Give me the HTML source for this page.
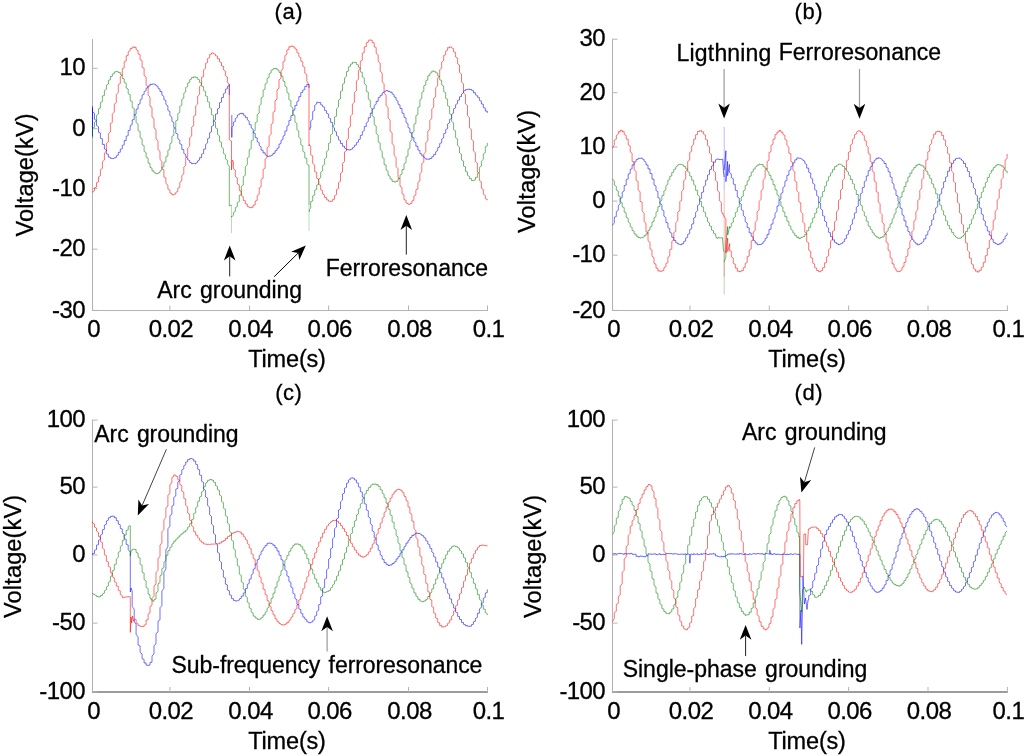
<!DOCTYPE html>
<html><head><meta charset="utf-8"><title>Figure</title>
<style>
html,body{margin:0;padding:0;background:#fff;}
svg{display:block;}
text{font-family:"Liberation Sans",sans-serif;font-size:24px;fill:#000;letter-spacing:-0.6px;word-spacing:2px;stroke:#000;stroke-width:0.3px;}
text.l{font-size:23.5px}
text.a{font-size:23px}
text.tt{font-size:22px;letter-spacing:0.5px}
</style></head><body>
<svg width="1024" height="756" viewBox="0 0 1024 756">
<rect width="1024" height="756" fill="#fff"/>
<path d="M92.5 39.0 V311.0" stroke="#b4b4b4" stroke-width="1.1" fill="none"/>
<path d="M92.0 310.5 H488.0" stroke="#b4b4b4" stroke-width="1.0" fill="none"/>
<path d="M92.5 310.5 v-5.0" stroke="#b4b4b4" stroke-width="1"/>
<text x="93.5" y="336.7" text-anchor="middle">0</text>
<path d="M169.9 310.5 v-5.0" stroke="#b4b4b4" stroke-width="1"/>
<text x="170.9" y="336.7" text-anchor="middle">0.02</text>
<path d="M249.5 310.5 v-5.0" stroke="#b4b4b4" stroke-width="1"/>
<text x="250.5" y="336.7" text-anchor="middle">0.04</text>
<path d="M328.6 310.5 v-5.0" stroke="#b4b4b4" stroke-width="1"/>
<text x="329.6" y="336.7" text-anchor="middle">0.06</text>
<path d="M408.5 310.5 v-5.0" stroke="#b4b4b4" stroke-width="1"/>
<text x="409.5" y="336.7" text-anchor="middle">0.08</text>
<path d="M487.5 310.5 v-5.0" stroke="#b4b4b4" stroke-width="1"/>
<text x="488.5" y="336.7" text-anchor="middle">0.1</text>
<path d="M92.5 68.3 h5.0" stroke="#b4b4b4" stroke-width="1"/>
<text x="85.0" y="75.4" text-anchor="end">10</text>
<path d="M92.5 128.7 h5.0" stroke="#b4b4b4" stroke-width="1"/>
<text x="85.0" y="135.8" text-anchor="end">0</text>
<path d="M92.5 188.6 h5.0" stroke="#b4b4b4" stroke-width="1"/>
<text x="85.0" y="195.7" text-anchor="end">-10</text>
<path d="M92.5 249.2 h5.0" stroke="#b4b4b4" stroke-width="1"/>
<text x="85.0" y="256.3" text-anchor="end">-20</text>
<path d="M92.5 310.4 h5.0" stroke="#b4b4b4" stroke-width="1"/>
<text x="85.0" y="317.5" text-anchor="end">-30</text>
<text class="l" transform="translate(33.0 175.2) rotate(-90)" text-anchor="middle" textLength="122.5">Voltage(kV)</text>
<text class="tt" x="288.8" y="19.0" text-anchor="middle">(a)</text>
<text class="l" x="286.8" y="367.4" text-anchor="middle" textLength="77">Time(s)</text>
<path d="M92.5 106.0 L92.5 136.0 L92.5 109.0 L92.5 109.0 L92.5 108.5 L92.5 111.7 L94.5 113.3 L94.5 119.3 L96.5 120.5 L96.5 125.5 L98.5 126.7 L98.5 132.3 L100.4 132.9 L100.4 138.3 L102.4 138.7 L102.4 144.4 L104.4 144.5 L104.4 148.9 L106.4 149.9 L106.4 153.9 L108.4 154.3 L108.4 157.1 L110.4 157.3 L110.4 158.3 L112.3 158.4 L112.3 158.7 L114.3 158.2 L114.3 157.8 L116.3 157.7 L116.3 155.8 L118.3 155.2 L118.3 152.5 L120.3 152.2 L120.3 149.2 L122.3 148.7 L122.3 145.4 L124.2 144.8 L124.2 140.6 L126.2 140.5 L126.2 136.3 L128.2 135.6 L128.2 130.6 L130.2 130.2 L130.2 125.6 L132.2 124.6 L132.2 119.9 L134.2 119.5 L134.2 114.7 L136.1 114.2 L136.1 109.3 L138.1 108.9 L138.1 104.6 L140.1 103.8 L140.1 99.9 L142.1 99.0 L142.1 95.1 L144.1 94.4 L144.1 91.7 L146.1 90.6 L146.1 88.2 L148.1 87.6 L148.1 86.0 L150.0 86.0 L150.0 84.2 L152.0 84.5 L152.0 84.1 L154.0 84.0 L154.0 84.0 L156.0 84.8 L156.0 85.7 L158.0 86.3 L158.0 88.2 L160.0 89.0 L160.0 91.6 L161.9 91.6 L161.9 95.0 L163.9 96.3 L163.9 99.7 L165.9 100.5 L165.9 104.4 L167.9 105.8 L167.9 110.5 L169.9 111.5 L169.9 115.6 L171.9 117.1 L171.9 121.3 L173.8 122.4 L173.8 127.4 L175.8 128.4 L175.8 133.2 L177.8 134.1 L177.8 138.8 L179.8 140.1 L179.8 143.8 L181.8 144.6 L181.8 149.3 L183.8 149.5 L183.8 153.5 L185.7 154.4 L185.7 156.7 L187.7 157.9 L187.7 159.7 L189.7 160.6 L189.7 162.3 L191.7 162.8 L191.7 163.9 L193.7 163.3 L193.7 163.4 L195.7 163.9 L195.7 163.1 L197.7 162.3 L197.7 160.9 L199.6 160.0 L199.6 157.7 L201.6 157.7 L201.6 154.3 L203.6 153.5 L203.6 149.3 L205.6 149.0 L205.6 144.5 L207.6 142.9 L207.6 138.8 L209.6 137.9 L209.6 132.7 L211.5 131.8 L211.5 126.5 L213.5 125.5 L213.5 120.8 L215.5 119.8 L215.5 114.1 L217.5 113.8 L217.5 108.9 L219.5 108.0 L219.5 102.8 L221.5 102.1 L221.5 97.7 L223.4 97.6 L223.4 93.8 L225.4 92.9 L225.4 89.3 L227.4 88.8 L227.4 86.5 L229.3 85.5 L229.3 84.5 L229.3 95.0 M231.8 115.0 L231.8 137.4 L231.9 127.4 L231.9 127.4 L233.4 125.7 L233.4 122.2 L235.3 121.5 L235.3 118.6 L237.3 117.4 L237.3 115.1 L239.3 114.6 L239.3 113.8 L241.3 113.2 L241.3 113.9 L243.3 113.2 L243.3 115.0 L245.3 115.5 L245.3 117.4 L247.3 117.3 L247.3 119.8 L249.2 121.1 L249.2 124.5 L251.2 124.8 L251.2 128.0 L253.2 129.2 L253.2 132.9 L255.2 133.3 L255.2 137.4 L257.2 137.9 L257.2 141.8 L259.2 142.6 L259.2 145.5 L261.1 146.9 L261.1 150.1 L263.1 150.3 L263.1 153.0 L265.1 152.7 L265.1 154.7 L267.1 155.6 L267.1 156.5 L269.1 156.3 L269.1 155.9 L271.1 156.2 L271.1 155.4 L273.0 155.0 L273.0 153.3 L275.0 153.3 L275.0 150.9 L277.0 150.4 L277.0 148.4 L279.0 148.0 L279.0 144.2 L281.0 143.6 L281.0 140.4 L283.0 139.5 L283.0 136.2 L284.9 135.3 L284.9 131.1 L286.9 130.9 L286.9 126.3 L288.9 125.1 L288.9 120.7 L290.9 120.3 L290.9 115.7 L292.9 115.5 L292.9 110.4 L294.9 109.9 L294.9 105.6 L296.9 105.4 L296.9 101.6 L298.8 100.8 L298.8 96.6 L300.8 96.7 L300.8 92.5 L302.8 92.3 L302.8 90.1 L304.8 89.6 L304.8 86.4 L306.8 86.6 L306.8 84.4 L308.0 84.4 L309.0 84.4 L309.0 88.0 M310.0 130.0 L310.0 127.4 L310.0 127.4 L310.7 127.4 L310.7 120.8 L312.7 119.3 L312.7 111.5 L314.7 110.3 L314.7 105.3 L316.7 104.0 L316.7 102.2 L318.7 102.4 L318.7 102.7 L320.7 102.5 L320.7 104.7 L322.6 105.1 L322.6 106.6 L324.6 107.3 L324.6 110.4 L326.6 110.8 L326.6 113.2 L328.6 114.0 L328.6 117.6 L330.6 118.7 L330.6 122.3 L332.6 122.5 L332.6 126.2 L334.5 127.9 L334.5 130.9 L336.5 131.9 L336.5 135.5 L338.5 136.6 L338.5 139.6 L340.5 140.6 L340.5 143.5 L342.5 143.4 L342.5 146.3 L344.5 146.2 L344.5 148.0 L346.5 149.0 L346.5 149.7 L348.4 149.5 L348.4 150.0 L350.4 150.0 L350.4 149.5 L352.4 149.2 L352.4 147.8 L354.4 147.1 L354.4 145.3 L356.4 145.1 L356.4 142.6 L358.4 142.2 L358.4 139.8 L360.3 139.2 L360.3 135.5 L362.3 135.2 L362.3 131.7 L364.3 130.5 L364.3 126.6 L366.3 126.3 L366.3 122.9 L368.3 121.5 L368.3 117.7 L370.3 117.7 L370.3 113.1 L372.2 113.3 L372.2 108.9 L374.2 108.7 L374.2 105.5 L376.2 104.2 L376.2 101.3 L378.2 101.3 L378.2 97.7 L380.2 97.2 L380.2 95.4 L382.2 95.2 L382.2 93.0 L384.1 92.3 L384.1 91.7 L386.1 91.0 L386.1 90.5 L388.1 90.7 L388.1 91.6 L390.1 91.6 L390.1 92.2 L392.1 92.2 L392.1 93.9 L394.1 94.7 L394.1 97.0 L396.1 97.5 L396.1 99.9 L398.0 101.1 L398.0 104.2 L400.0 104.9 L400.0 108.3 L402.0 108.5 L402.0 113.0 L404.0 113.5 L404.0 117.2 L406.0 117.9 L406.0 122.5 L408.0 123.7 L408.0 127.5 L409.9 128.4 L409.9 132.6 L411.9 133.0 L411.9 137.1 L413.9 137.5 L413.9 141.5 L415.9 142.5 L415.9 146.2 L417.9 146.3 L417.9 150.0 L419.9 150.5 L419.9 153.6 L421.8 153.9 L421.8 155.8 L423.8 156.2 L423.8 157.3 L425.8 158.4 L425.8 159.3 L427.8 159.1 L427.8 159.0 L429.8 159.3 L429.8 158.4 L431.8 158.4 L431.8 156.8 L433.7 156.4 L433.7 154.4 L435.7 154.4 L435.7 151.8 L437.7 150.7 L437.7 147.6 L439.7 147.1 L439.7 143.5 L441.7 142.8 L441.7 139.1 L443.7 137.9 L443.7 133.7 L445.7 133.1 L445.7 129.6 L447.6 128.6 L447.6 124.0 L449.6 122.8 L449.6 119.4 L451.6 118.5 L451.6 114.3 L453.6 113.1 L453.6 108.8 L455.6 108.0 L455.6 104.7 L457.6 103.5 L457.6 100.4 L459.5 100.0 L459.5 96.8 L461.5 96.5 L461.5 94.1 L463.5 92.9 L463.5 91.0 L465.5 90.7 L465.5 89.6 L467.5 89.7 L467.5 89.2 L469.5 89.1 L469.5 89.7 L471.4 89.3 L471.4 90.2 L473.4 90.5 L473.4 92.7 L475.4 92.6 L475.4 94.8 L477.4 95.5 L477.4 97.2 L479.4 97.5 L479.4 100.4 L481.4 101.0 L481.4 104.0 L483.3 104.1 L483.3 107.6 L485.3 108.0 L485.3 111.1 L487.3 111.0 L487.3 112.7 L487.5 113.0" stroke="#0000ff" stroke-width="0.56" fill="none" stroke-linejoin="round"/>
<path d="M92.5 138.0 L92.5 131.0 L92.5 131.0 L92.5 130.8 L92.5 128.0 L94.5 127.4 L94.5 122.1 L96.5 120.9 L96.5 115.4 L98.5 114.0 L98.5 108.8 L100.4 108.1 L100.4 102.6 L102.4 101.6 L102.4 95.9 L104.4 95.5 L104.4 90.6 L106.4 89.3 L106.4 85.2 L108.4 84.1 L108.4 80.3 L110.4 79.8 L110.4 76.5 L112.3 76.4 L112.3 74.1 L114.3 73.5 L114.3 72.0 L116.3 71.7 L116.3 71.3 L118.3 71.8 L118.3 72.5 L120.3 72.4 L120.3 74.6 L122.3 75.0 L122.3 78.3 L124.2 78.8 L124.2 82.5 L126.2 83.2 L126.2 88.1 L128.2 89.0 L128.2 93.8 L130.2 94.7 L130.2 100.8 L132.2 101.3 L132.2 107.6 L134.2 108.5 L134.2 115.0 L136.1 116.0 L136.1 122.6 L138.1 124.1 L138.1 130.6 L140.1 131.6 L140.1 137.7 L142.1 138.9 L142.1 144.7 L144.1 145.6 L144.1 151.4 L146.1 152.6 L146.1 157.2 L148.1 158.1 L148.1 163.0 L150.0 163.4 L150.0 167.4 L152.0 168.0 L152.0 170.9 L154.0 170.9 L154.0 172.6 L156.0 173.1 L156.0 173.7 L158.0 173.6 L158.0 173.0 L160.0 172.6 L160.0 170.9 L161.9 170.0 L161.9 167.2 L163.9 166.8 L163.9 162.4 L165.9 161.8 L165.9 156.8 L167.9 156.0 L167.9 150.3 L169.9 149.3 L169.9 143.9 L171.9 142.6 L171.9 136.4 L173.8 135.4 L173.8 128.7 L175.8 127.5 L175.8 120.8 L177.8 120.1 L177.8 113.7 L179.8 112.5 L179.8 106.4 L181.8 105.2 L181.8 99.4 L183.8 98.1 L183.8 93.2 L185.7 92.0 L185.7 87.5 L187.7 86.6 L187.7 83.0 L189.7 82.5 L189.7 79.7 L191.7 79.1 L191.7 77.3 L193.7 77.6 L193.7 76.8 L195.7 76.9 L195.7 77.4 L197.7 77.7 L197.7 79.2 L199.6 79.8 L199.6 82.5 L201.6 83.2 L201.6 86.2 L203.6 86.6 L203.6 90.7 L205.6 91.5 L205.6 96.0 L207.6 96.7 L207.6 101.8 L209.6 102.4 L209.6 107.6 L211.5 108.7 L211.5 114.5 L213.5 115.4 L213.5 120.9 L215.5 121.9 L215.5 127.8 L217.5 128.7 L217.5 134.5 L219.5 135.8 L219.5 141.4 L221.5 142.3 L221.5 147.2 L223.4 148.5 L223.4 153.4 L225.4 154.7 L225.4 159.0 L227.4 160.2 L227.4 163.9 L229.3 166.4 L229.3 166.6 L229.3 206.0 L231.5 205.0 M231.5 216.0 L231.5 217.0 L231.5 217.0 L233.4 215.3 L233.4 212.6 L235.3 211.6 L235.3 207.7 L237.3 206.6 L237.3 202.5 L239.3 201.6 L239.3 195.3 L241.3 194.7 L241.3 186.5 L243.3 185.1 L243.3 176.6 L245.3 175.3 L245.3 166.8 L247.3 164.8 L247.3 158.0 L249.2 156.8 L249.2 149.7 L251.2 148.6 L251.2 140.8 L253.2 139.9 L253.2 131.8 L255.2 130.5 L255.2 122.9 L257.2 121.7 L257.2 114.5 L259.2 113.0 L259.2 106.0 L261.1 104.4 L261.1 97.9 L263.1 96.8 L263.1 90.2 L265.1 89.2 L265.1 84.0 L267.1 82.9 L267.1 78.4 L269.1 77.5 L269.1 73.8 L271.1 72.9 L271.1 70.3 L273.0 69.9 L273.0 68.9 L275.0 68.2 L275.0 68.8 L277.0 68.5 L277.0 69.7 L279.0 70.1 L279.0 72.3 L281.0 72.8 L281.0 75.8 L283.0 76.5 L283.0 81.0 L284.9 81.7 L284.9 86.1 L286.9 87.2 L286.9 92.5 L288.9 93.4 L288.9 99.6 L290.9 100.6 L290.9 106.5 L292.9 108.0 L292.9 114.6 L294.9 115.3 L294.9 122.0 L296.9 123.4 L296.9 129.8 L298.8 131.0 L298.8 137.3 L300.8 138.8 L300.8 144.7 L302.8 145.8 L302.8 151.4 L304.8 152.4 L304.8 158.0 L306.8 158.4 L306.8 163.6 L308.3 165.0 L309.0 165.0 L309.0 205.0 M309.3 212.0 L309.5 209.4 L309.5 209.4 L310.7 208.1 L310.7 201.6 L312.7 201.0 L312.7 195.9 L314.7 195.1 L314.7 190.2 L316.7 189.5 L316.7 185.1 L318.7 184.2 L318.7 179.1 L320.7 177.7 L320.7 172.2 L322.6 171.0 L322.6 165.8 L324.6 164.4 L324.6 158.9 L326.6 157.5 L326.6 151.4 L328.6 150.0 L328.6 143.4 L330.6 142.6 L330.6 134.9 L332.6 133.7 L332.6 126.6 L334.5 124.7 L334.5 117.1 L336.5 116.2 L336.5 108.8 L338.5 106.9 L338.5 100.1 L340.5 98.9 L340.5 91.5 L342.5 90.7 L342.5 84.3 L344.5 83.2 L344.5 77.9 L346.5 76.3 L346.5 71.6 L348.4 71.2 L348.4 67.1 L350.4 66.5 L350.4 64.2 L352.4 64.0 L352.4 62.3 L354.4 62.3 L354.4 62.4 L356.4 62.6 L356.4 64.4 L358.4 64.9 L358.4 67.1 L360.3 68.2 L360.3 71.9 L362.3 72.4 L362.3 77.1 L364.3 78.2 L364.3 83.7 L366.3 85.2 L366.3 91.3 L368.3 92.1 L368.3 99.1 L370.3 100.3 L370.3 107.1 L372.2 108.9 L372.2 115.9 L374.2 117.0 L374.2 124.5 L376.2 126.0 L376.2 133.5 L378.2 135.0 L378.2 142.1 L380.2 143.1 L380.2 149.7 L382.2 151.4 L382.2 157.4 L384.1 158.4 L384.1 164.6 L386.1 165.0 L386.1 170.1 L388.1 171.2 L388.1 175.3 L390.1 176.2 L390.1 178.9 L392.1 179.1 L392.1 181.5 L394.1 181.3 L394.1 181.9 L396.1 182.0 L396.1 181.1 L398.0 181.3 L398.0 178.6 L400.0 178.6 L400.0 175.1 L402.0 174.1 L402.0 169.7 L404.0 169.5 L404.0 163.7 L406.0 162.6 L406.0 156.9 L408.0 156.0 L408.0 149.5 L409.9 148.4 L409.9 141.7 L411.9 140.0 L411.9 132.8 L413.9 131.9 L413.9 124.3 L415.9 123.3 L415.9 115.7 L417.9 114.5 L417.9 107.4 L419.9 106.7 L419.9 99.6 L421.8 98.5 L421.8 92.4 L423.8 91.4 L423.8 85.8 L425.8 85.0 L425.8 80.7 L427.8 80.0 L427.8 75.9 L429.8 75.6 L429.8 73.3 L431.8 72.7 L431.8 71.2 L433.7 70.9 L433.7 71.5 L435.7 71.7 L435.7 72.6 L437.7 73.0 L437.7 76.0 L439.7 76.4 L439.7 79.9 L441.7 80.4 L441.7 84.9 L443.7 86.1 L443.7 91.5 L445.7 92.6 L445.7 98.4 L447.6 99.2 L447.6 105.8 L449.6 106.5 L449.6 113.6 L451.6 114.9 L451.6 121.3 L453.6 122.8 L453.6 129.6 L455.6 130.9 L455.6 137.7 L457.6 139.0 L457.6 145.5 L459.5 147.0 L459.5 152.9 L461.5 154.3 L461.5 159.9 L463.5 161.1 L463.5 166.1 L465.5 167.0 L465.5 171.5 L467.5 171.9 L467.5 175.4 L469.5 176.4 L469.5 178.6 L471.4 178.7 L471.4 180.4 L473.4 180.6 L473.4 180.3 L475.4 180.0 L475.4 177.3 L477.4 177.4 L477.4 173.3 L479.4 172.7 L479.4 167.4 L481.4 166.1 L481.4 161.1 L483.3 159.4 L483.3 153.9 L485.3 152.6 L485.3 146.8 L487.3 145.9 L487.3 143.1 L487.5 143.0" stroke="#008000" stroke-width="0.56" fill="none" stroke-linejoin="round"/><path d="M231.5 205.0 L231.5 233.0 M309.0 205.0 L309.0 231.0" stroke="#008000" stroke-width="0.56" stroke-opacity="0.5" fill="none"/>
<path d="M92.5 192.6 L92.5 192.6 L92.5 191.7 L94.5 190.8 L94.5 187.8 L96.5 187.1 L96.5 182.7 L98.5 182.0 L98.5 176.8 L100.4 175.8 L100.4 169.7 L102.4 168.4 L102.4 161.7 L104.4 160.1 L104.4 153.0 L106.4 151.1 L106.4 143.5 L108.4 141.9 L108.4 133.7 L110.4 132.0 L110.4 123.5 L112.3 122.4 L112.3 114.1 L114.3 112.1 L114.3 104.0 L116.3 102.6 L116.3 94.5 L118.3 92.5 L118.3 84.7 L120.3 83.5 L120.3 76.7 L122.3 75.0 L122.3 68.6 L124.2 67.9 L124.2 61.8 L126.2 61.0 L126.2 55.9 L128.2 55.4 L128.2 51.8 L130.2 50.6 L130.2 48.6 L132.2 48.5 L132.2 47.2 L134.2 46.8 L134.2 47.6 L136.1 47.3 L136.1 49.7 L138.1 50.6 L138.1 53.9 L140.1 54.7 L140.1 59.7 L142.1 60.6 L142.1 67.3 L144.1 68.2 L144.1 75.5 L146.1 77.0 L146.1 84.8 L148.1 86.7 L148.1 95.1 L150.0 97.0 L150.0 106.2 L152.0 107.4 L152.0 117.0 L154.0 118.8 L154.0 128.0 L156.0 129.4 L156.0 139.0 L158.0 140.7 L158.0 149.6 L160.0 151.4 L160.0 159.6 L161.9 161.3 L161.9 168.5 L163.9 169.8 L163.9 177.1 L165.9 177.9 L165.9 183.5 L167.9 185.0 L167.9 189.0 L169.9 190.0 L169.9 193.0 L171.9 193.5 L171.9 194.8 L173.8 194.9 L173.8 194.3 L175.8 194.0 L175.8 192.3 L177.8 191.5 L177.8 188.2 L179.8 187.3 L179.8 182.3 L181.8 181.0 L181.8 175.5 L183.8 174.0 L183.8 167.0 L185.7 165.6 L185.7 157.7 L187.7 156.7 L187.7 148.0 L189.7 146.1 L189.7 137.7 L191.7 136.0 L191.7 127.1 L193.7 125.7 L193.7 116.3 L195.7 115.1 L195.7 105.9 L197.7 104.0 L197.7 96.0 L199.6 94.4 L199.6 86.5 L201.6 84.6 L201.6 77.2 L203.6 76.5 L203.6 69.8 L205.6 68.3 L205.6 63.4 L207.6 62.5 L207.6 58.5 L209.6 57.7 L209.6 54.5 L211.5 54.1 L211.5 53.0 L213.5 53.0 L213.5 53.6 L215.5 54.3 L215.5 55.7 L217.5 56.1 L217.5 58.8 L219.5 58.8 L219.5 61.8 L221.5 62.6 L221.5 65.9 L223.4 66.2 L223.4 69.8 L225.4 71.2 L225.4 75.7 L227.4 77.0 L227.4 81.8 L229.3 85.0 L229.3 86.9 L229.3 139.7 L231.5 141.0 L231.5 170.0 L232.2 160.0 L232.2 160.0 L233.4 161.4 L233.4 168.5 L235.3 170.1 L235.3 176.8 L237.3 177.9 L237.3 183.9 L239.3 184.9 L239.3 190.5 L241.3 191.2 L241.3 195.7 L243.3 196.7 L243.3 200.4 L245.3 200.7 L245.3 203.8 L247.3 204.0 L247.3 206.4 L249.2 206.8 L249.2 207.5 L251.2 207.8 L251.2 207.2 L253.2 207.3 L253.2 205.1 L255.2 204.9 L255.2 201.1 L257.2 200.3 L257.2 195.6 L259.2 194.3 L259.2 187.9 L261.1 186.8 L261.1 179.4 L263.1 178.1 L263.1 169.5 L265.1 168.3 L265.1 159.1 L267.1 157.5 L267.1 147.8 L269.1 146.3 L269.1 136.2 L271.1 134.2 L271.1 124.5 L273.0 122.9 L273.0 112.5 L275.0 111.1 L275.0 100.9 L277.0 99.4 L277.0 89.9 L279.0 88.3 L279.0 79.9 L281.0 78.2 L281.0 70.6 L283.0 69.0 L283.0 61.9 L284.9 61.0 L284.9 55.6 L286.9 54.4 L286.9 49.9 L288.9 49.5 L288.9 46.7 L290.9 47.0 L290.9 46.1 L292.9 46.0 L292.9 46.7 L294.9 47.1 L294.9 48.8 L296.9 49.4 L296.9 52.6 L298.8 53.1 L298.8 56.5 L300.8 57.8 L300.8 61.2 L302.8 61.9 L302.8 66.3 L304.8 67.2 L304.8 73.2 L306.8 74.6 L306.8 80.9 L308.6 84.4 L309.0 84.4 L309.0 146.0 L309.5 144.6 L309.5 144.6 L310.7 146.6 L310.7 154.8 L312.7 155.9 L312.7 163.5 L314.7 165.0 L314.7 171.7 L316.7 172.2 L316.7 178.3 L318.7 179.1 L318.7 184.6 L320.7 185.2 L320.7 189.9 L322.6 190.7 L322.6 194.1 L324.6 194.9 L324.6 197.6 L326.6 197.6 L326.6 199.9 L328.6 200.0 L328.6 201.2 L330.6 201.2 L330.6 201.5 L332.6 201.2 L332.6 199.4 L334.5 199.2 L334.5 195.8 L336.5 194.7 L336.5 189.6 L338.5 188.7 L338.5 182.6 L340.5 181.3 L340.5 173.4 L342.5 172.1 L342.5 163.5 L344.5 161.5 L344.5 151.9 L346.5 150.6 L346.5 140.6 L348.4 138.7 L348.4 128.3 L350.4 126.6 L350.4 116.2 L352.4 114.3 L352.4 104.0 L354.4 102.3 L354.4 92.6 L356.4 90.6 L356.4 80.9 L358.4 79.3 L358.4 70.7 L360.3 69.0 L360.3 61.2 L362.3 60.2 L362.3 53.2 L364.3 52.4 L364.3 47.0 L366.3 46.5 L366.3 42.8 L368.3 42.2 L368.3 40.3 L370.3 39.9 L370.3 40.2 L372.2 40.2 L372.2 42.5 L374.2 42.8 L374.2 46.9 L376.2 47.5 L376.2 53.3 L378.2 54.9 L378.2 61.5 L380.2 63.1 L380.2 71.3 L382.2 72.9 L382.2 82.0 L384.1 83.7 L384.1 93.3 L386.1 95.1 L386.1 105.6 L388.1 107.4 L388.1 118.1 L390.1 120.0 L390.1 131.1 L392.1 132.7 L392.1 143.8 L394.1 145.5 L394.1 155.5 L396.1 157.4 L396.1 166.6 L398.0 168.7 L398.0 177.3 L400.0 178.7 L400.0 186.1 L402.0 187.6 L402.0 193.8 L404.0 194.8 L404.0 199.7 L406.0 200.2 L406.0 203.0 L408.0 203.5 L408.0 204.3 L409.9 204.3 L409.9 203.7 L411.9 203.4 L411.9 201.0 L413.9 200.3 L413.9 196.0 L415.9 194.9 L415.9 189.8 L417.9 189.0 L417.9 182.4 L419.9 181.0 L419.9 173.5 L421.8 171.9 L421.8 163.6 L423.8 162.1 L423.8 153.8 L425.8 152.0 L425.8 142.4 L427.8 140.9 L427.8 131.1 L429.8 129.6 L429.8 120.3 L431.8 118.6 L431.8 109.0 L433.7 107.2 L433.7 98.2 L435.7 96.8 L435.7 87.7 L437.7 85.9 L437.7 77.8 L439.7 76.4 L439.7 69.7 L441.7 68.2 L441.7 62.0 L443.7 60.5 L443.7 55.4 L445.7 54.8 L445.7 51.1 L447.6 50.2 L447.6 47.6 L449.6 47.9 L449.6 46.8 L451.6 47.1 L451.6 47.9 L453.6 48.7 L453.6 51.8 L455.6 52.4 L455.6 56.9 L457.6 58.1 L457.6 63.8 L459.5 65.1 L459.5 72.4 L461.5 74.1 L461.5 81.9 L463.5 84.0 L463.5 92.9 L465.5 94.7 L465.5 103.9 L467.5 105.5 L467.5 115.5 L469.5 117.7 L469.5 127.9 L471.4 129.5 L471.4 139.3 L473.4 140.9 L473.4 151.0 L475.4 152.7 L475.4 161.4 L477.4 163.1 L477.4 172.0 L479.4 173.4 L479.4 180.6 L481.4 181.8 L481.4 188.3 L483.3 189.4 L483.3 194.1 L485.3 195.4 L485.3 198.7 L487.3 199.3 L487.3 200.1 L487.5 200.3" stroke="#ff0000" stroke-width="0.56" fill="none" stroke-linejoin="round"/>
<path d="M229.7 276.4 L229.7 256.2" stroke="#222" stroke-width="1.0"/><path d="M229.7 245.5 L235.5 260.4 L229.7 256.2 L223.9 260.4 Z" fill="#000"/>
<path d="M274.2 276.7 L298.2 253.0" stroke="#000" stroke-width="1.0"/><path d="M305.8 245.5 L299.3 260.1 L298.2 253.0 L291.1 251.8 Z" fill="#000"/>
<path d="M406.3 254.6 L406.3 225.7" stroke="#222" stroke-width="1.0"/><path d="M406.3 215.0 L412.1 229.9 L406.3 225.7 L400.5 229.9 Z" fill="#000"/>
<text class="a" x="157.3" y="297.5" textLength="144.2">Arc grounding</text>
<text class="a" x="325.8" y="275.8" textLength="161.6">Ferroresonance</text>
<path d="M612.5 38.8 V311.0" stroke="#b4b4b4" stroke-width="1.1" fill="none"/>
<path d="M612.0 310.5 H1007.9" stroke="#b4b4b4" stroke-width="1.0" fill="none"/>
<path d="M612.5 310.5 v-5.0" stroke="#b4b4b4" stroke-width="1"/>
<text x="613.5" y="336.7" text-anchor="middle">0</text>
<path d="M690.0 310.5 v-5.0" stroke="#b4b4b4" stroke-width="1"/>
<text x="691.0" y="336.7" text-anchor="middle">0.02</text>
<path d="M769.3 310.5 v-5.0" stroke="#b4b4b4" stroke-width="1"/>
<text x="770.3" y="336.7" text-anchor="middle">0.04</text>
<path d="M848.6 310.5 v-5.0" stroke="#b4b4b4" stroke-width="1"/>
<text x="849.6" y="336.7" text-anchor="middle">0.06</text>
<path d="M928.0 310.5 v-5.0" stroke="#b4b4b4" stroke-width="1"/>
<text x="929.0" y="336.7" text-anchor="middle">0.08</text>
<path d="M1007.4 310.5 v-5.0" stroke="#b4b4b4" stroke-width="1"/>
<text x="1008.4" y="336.7" text-anchor="middle">0.1</text>
<path d="M612.5 39.2 h5.0" stroke="#b4b4b4" stroke-width="1"/>
<text x="605.1" y="46.3" text-anchor="end">30</text>
<path d="M612.5 92.7 h5.0" stroke="#b4b4b4" stroke-width="1"/>
<text x="605.1" y="99.8" text-anchor="end">20</text>
<path d="M612.5 147.0 h5.0" stroke="#b4b4b4" stroke-width="1"/>
<text x="605.1" y="154.1" text-anchor="end">10</text>
<path d="M612.5 201.1 h5.0" stroke="#b4b4b4" stroke-width="1"/>
<text x="605.1" y="208.2" text-anchor="end">0</text>
<path d="M612.5 255.2 h5.0" stroke="#b4b4b4" stroke-width="1"/>
<text x="605.1" y="262.3" text-anchor="end">-10</text>
<path d="M612.5 310.4 h5.0" stroke="#b4b4b4" stroke-width="1"/>
<text x="605.1" y="317.5" text-anchor="end">-20</text>
<text class="l" transform="translate(535.3 171.7) rotate(-90)" text-anchor="middle" textLength="122.5">Voltage(kV)</text>
<text class="tt" x="808.8" y="18.8" text-anchor="middle">(b)</text>
<text class="l" x="806.8" y="367.4" text-anchor="middle" textLength="77">Time(s)</text>
<path d="M612.5 225.4 L614.3 222.8 L614.3 217.2 L616.3 216.6 L616.3 211.6 L618.3 210.3 L618.3 205.5 L620.2 203.7 L620.2 198.5 L622.2 197.7 L622.2 192.1 L624.2 190.9 L624.2 185.6 L626.2 185.1 L626.2 179.7 L628.2 179.0 L628.2 174.0 L630.2 173.5 L630.2 169.3 L632.1 168.8 L632.1 164.9 L634.1 165.0 L634.1 162.2 L636.1 161.6 L636.1 159.7 L638.1 159.3 L638.1 158.3 L640.1 158.4 L640.1 158.4 L642.1 158.0 L642.1 158.9 L644.1 159.5 L644.1 161.2 L646.0 162.1 L646.0 164.8 L648.0 165.0 L648.0 169.0 L650.0 168.8 L650.0 173.4 L652.0 173.8 L652.0 179.1 L654.0 179.2 L654.0 184.9 L656.0 185.9 L656.0 190.5 L657.9 191.5 L657.9 197.6 L659.9 198.3 L659.9 203.5 L661.9 204.6 L661.9 209.8 L663.9 210.8 L663.9 216.1 L665.9 217.6 L665.9 222.5 L667.9 222.8 L667.9 227.7 L669.8 228.7 L669.8 232.3 L671.8 233.2 L671.8 237.3 L673.8 237.4 L673.8 240.4 L675.8 240.5 L675.8 242.6 L677.8 243.0 L677.8 243.9 L679.8 244.2 L679.8 244.5 L681.7 244.8 L681.7 243.7 L683.7 243.7 L683.7 241.5 L685.7 241.0 L685.7 238.1 L687.7 237.3 L687.7 234.4 L689.7 233.6 L689.7 229.5 L691.7 228.8 L691.7 224.1 L693.7 223.7 L693.7 217.9 L695.6 217.1 L695.6 212.5 L697.6 210.7 L697.6 205.6 L699.6 204.3 L699.6 199.4 L701.6 198.3 L701.6 192.5 L703.6 192.0 L703.6 186.7 L705.6 185.3 L705.6 180.5 L707.5 179.8 L707.5 175.1 L709.5 174.4 L709.5 169.8 L711.5 169.3 L711.5 166.1 L713.5 165.5 L713.5 161.9 L715.5 162.2 L715.5 160.3 L716.0 160.1 L716.0 159.3 L719.0 159.0 L719.0 159.6 L722.7 159.3 L723.5 172.0 L724.2 177.0 M724.2 170.0 L725.9 150.7 L725.9 181.7 L727.6 161.4 L727.6 175.7 L729.4 164.4 L729.4 172.0 L730.5 173.6 L731.3 173.9 L731.3 177.7 L733.3 178.7 L733.3 184.1 L735.3 184.5 L735.3 190.3 L737.3 190.6 L737.3 197.0 L739.3 198.0 L739.3 203.0 L741.3 204.1 L741.3 209.7 L743.3 210.7 L743.3 215.6 L745.2 216.9 L745.2 221.6 L747.2 223.0 L747.2 227.5 L749.2 227.9 L749.2 232.7 L751.2 232.9 L751.2 236.2 L753.2 237.0 L753.2 240.1 L755.2 240.9 L755.2 242.9 L757.1 242.8 L757.1 244.6 L759.1 244.7 L759.1 244.5 L761.1 244.6 L761.1 244.0 L763.1 243.4 L763.1 241.9 L765.1 240.9 L765.1 238.6 L767.1 238.0 L767.1 234.4 L769.0 234.4 L769.0 229.5 L771.0 229.2 L771.0 224.3 L773.0 223.9 L773.0 219.3 L775.0 217.9 L775.0 213.2 L777.0 211.5 L777.0 206.1 L779.0 205.7 L779.0 200.1 L780.9 199.2 L780.9 193.5 L782.9 192.5 L782.9 187.6 L784.9 186.2 L784.9 181.2 L786.9 180.5 L786.9 175.5 L788.9 175.0 L788.9 170.7 L790.9 169.8 L790.9 166.6 L792.9 165.8 L792.9 163.0 L794.8 162.5 L794.8 159.8 L796.8 159.8 L796.8 157.9 L798.8 157.9 L798.8 158.2 L800.8 158.3 L800.8 158.6 L802.8 159.5 L802.8 160.3 L804.8 161.0 L804.8 163.5 L806.7 164.3 L806.7 168.1 L808.7 168.1 L808.7 172.2 L810.7 173.0 L810.7 177.9 L812.7 178.9 L812.7 183.3 L814.7 184.3 L814.7 189.7 L816.7 190.7 L816.7 195.5 L818.6 196.6 L818.6 202.5 L820.6 203.0 L820.6 208.7 L822.6 210.2 L822.6 215.6 L824.6 216.2 L824.6 221.1 L826.6 222.0 L826.6 226.3 L828.6 228.0 L828.6 232.2 L830.5 232.8 L830.5 236.6 L832.5 236.7 L832.5 240.1 L834.5 239.8 L834.5 242.2 L836.5 242.6 L836.5 243.9 L838.5 243.9 L838.5 244.9 L840.5 244.2 L840.5 243.8 L842.5 243.4 L842.5 242.4 L844.4 241.6 L844.4 239.1 L846.4 238.6 L846.4 235.1 L848.4 234.2 L848.4 230.8 L850.4 230.1 L850.4 225.5 L852.4 224.1 L852.4 219.7 L854.4 218.5 L854.4 213.2 L856.3 212.6 L856.3 207.2 L858.3 206.0 L858.3 200.6 L860.3 199.5 L860.3 193.9 L862.3 192.8 L862.3 187.8 L864.3 187.3 L864.3 181.7 L866.3 180.6 L866.3 176.0 L868.2 175.8 L868.2 170.8 L870.2 170.3 L870.2 167.1 L872.2 166.2 L872.2 162.8 L874.2 162.7 L874.2 160.4 L876.2 159.6 L876.2 158.2 L878.2 158.6 L878.2 157.6 L880.1 158.2 L880.1 158.3 L882.1 159.2 L882.1 160.4 L884.1 161.3 L884.1 163.5 L886.1 163.5 L886.1 167.2 L888.1 167.9 L888.1 171.5 L890.1 172.1 L890.1 176.9 L892.1 177.5 L892.1 182.9 L894.0 184.1 L894.0 188.9 L896.0 190.2 L896.0 195.3 L898.0 196.0 L898.0 201.5 L900.0 203.0 L900.0 207.9 L902.0 208.5 L902.0 214.5 L904.0 215.7 L904.0 220.9 L905.9 220.9 L905.9 226.5 L907.9 226.8 L907.9 231.3 L909.9 232.0 L909.9 235.3 L911.9 236.7 L911.9 239.0 L913.9 240.1 L913.9 241.8 L915.9 242.6 L915.9 244.1 L917.8 243.8 L917.8 245.1 L919.8 244.4 L919.8 243.8 L921.8 243.4 L921.8 242.6 L923.8 241.5 L923.8 238.9 L925.8 238.9 L925.8 235.1 L927.8 234.7 L927.8 231.4 L929.7 230.0 L929.7 226.2 L931.7 225.1 L931.7 220.2 L933.7 219.4 L933.7 214.3 L935.7 212.8 L935.7 207.9 L937.7 206.7 L937.7 201.0 L939.7 200.7 L939.7 194.4 L941.7 193.5 L941.7 188.6 L943.6 187.7 L943.6 182.0 L945.6 181.4 L945.6 177.3 L947.6 176.3 L947.6 171.1 L949.6 171.2 L949.6 167.1 L951.6 166.9 L951.6 163.6 L953.6 163.1 L953.6 160.4 L955.5 160.2 L955.5 158.7 L957.5 158.3 L957.5 158.4 L959.5 157.9 L959.5 158.5 L961.5 159.1 L961.5 160.1 L963.5 161.1 L963.5 163.5 L965.5 163.3 L965.5 167.0 L967.4 167.5 L967.4 171.2 L969.4 171.7 L969.4 176.8 L971.4 176.9 L971.4 181.9 L973.4 183.4 L973.4 187.7 L975.4 189.1 L975.4 194.3 L977.4 195.8 L977.4 201.3 L979.3 202.1 L979.3 207.6 L981.3 208.3 L981.3 213.9 L983.3 214.8 L983.3 220.0 L985.3 221.0 L985.3 225.8 L987.3 226.7 L987.3 230.9 L989.3 231.1 L989.3 235.1 L991.3 235.5 L991.3 238.6 L993.2 239.4 L993.2 242.2 L995.2 242.5 L995.2 243.5 L997.2 243.8 L997.2 244.6 L999.2 244.6 L999.2 243.7 L1001.2 243.7 L1001.2 242.3 L1003.2 241.9 L1003.2 239.6 L1005.1 238.9 L1005.1 236.3 L1007.1 235.2 L1007.1 233.1 L1007.4 232.9" stroke="#0000ff" stroke-width="0.56" fill="none" stroke-linejoin="round"/><path d="M724.2 126.9 L724.2 190.0" stroke="#0000ff" stroke-width="0.56" stroke-opacity="0.5" fill="none"/>
<path d="M612.5 179.0 L614.3 181.0 L614.3 184.9 L616.3 186.3 L616.3 190.1 L618.3 191.0 L618.3 196.0 L620.2 196.4 L620.2 201.6 L622.2 202.7 L622.2 206.8 L624.2 207.6 L624.2 212.1 L626.2 212.8 L626.2 217.3 L628.2 218.2 L628.2 221.9 L630.2 223.2 L630.2 226.5 L632.1 227.5 L632.1 230.4 L634.1 231.1 L634.1 233.9 L636.1 234.0 L636.1 236.0 L638.1 236.1 L638.1 237.6 L640.1 237.6 L640.1 238.2 L642.1 237.7 L642.1 237.9 L644.1 237.0 L644.1 235.7 L646.0 235.6 L646.0 233.9 L648.0 233.8 L648.0 230.3 L650.0 230.1 L650.0 227.1 L652.0 226.4 L652.0 222.0 L654.0 221.5 L654.0 217.7 L656.0 216.6 L656.0 212.3 L657.9 211.3 L657.9 206.7 L659.9 206.5 L659.9 201.8 L661.9 200.3 L661.9 195.7 L663.9 195.2 L663.9 191.0 L665.9 189.9 L665.9 185.6 L667.9 184.4 L667.9 180.3 L669.8 179.5 L669.8 176.3 L671.8 176.0 L671.8 172.5 L673.8 172.1 L673.8 169.5 L675.8 169.0 L675.8 166.9 L677.8 165.8 L677.8 164.8 L679.8 164.6 L679.8 164.3 L681.7 164.4 L681.7 164.7 L683.7 165.0 L683.7 166.4 L685.7 166.6 L685.7 168.8 L687.7 169.0 L687.7 171.6 L689.7 172.3 L689.7 175.9 L691.7 176.5 L691.7 180.2 L693.7 180.3 L693.7 184.5 L695.6 185.6 L695.6 190.3 L697.6 190.3 L697.6 195.0 L699.6 196.5 L699.6 201.1 L701.6 201.7 L701.6 206.8 L703.6 207.1 L703.6 211.7 L705.6 212.5 L705.6 216.6 L707.5 217.7 L707.5 221.8 L709.5 222.9 L709.5 225.9 L711.5 226.4 L711.5 230.0 L713.5 230.8 L713.5 233.2 L715.5 233.7 L715.5 235.4 L716.0 235.5 L716.0 237.7 L718.0 238.3 L718.0 237.4 L720.0 238.0 L722.5 237.7 L723.4 250.0 L724.2 252.0 M724.2 262.0 L725.9 257.0 L725.9 244.0 L727.7 226.5 L727.7 235.0 L729.7 226.5 L729.7 228.2 L731.3 226.4 L731.3 223.3 L733.3 222.4 L733.3 218.1 L735.3 216.9 L735.3 212.6 L737.3 211.7 L737.3 207.9 L739.3 206.8 L739.3 202.3 L741.3 200.7 L741.3 197.0 L743.3 196.1 L743.3 190.9 L745.2 190.0 L745.2 185.6 L747.2 185.0 L747.2 181.1 L749.2 180.3 L749.2 176.4 L751.2 176.1 L751.2 172.3 L753.2 171.9 L753.2 169.2 L755.2 168.9 L755.2 167.1 L757.1 166.2 L757.1 165.2 L759.1 165.1 L759.1 164.0 L761.1 164.6 L761.1 164.5 L763.1 164.5 L763.1 166.6 L765.1 166.9 L765.1 168.8 L767.1 168.7 L767.1 171.1 L769.0 172.2 L769.0 175.2 L771.0 175.5 L771.0 179.5 L773.0 179.8 L773.0 184.7 L775.0 184.8 L775.0 189.6 L777.0 190.0 L777.0 194.8 L779.0 195.6 L779.0 199.9 L780.9 201.5 L780.9 206.0 L782.9 207.0 L782.9 211.6 L784.9 212.1 L784.9 216.8 L786.9 216.7 L786.9 221.0 L788.9 221.5 L788.9 225.6 L790.9 226.3 L790.9 229.5 L792.9 230.6 L792.9 232.9 L794.8 233.3 L794.8 235.7 L796.8 235.6 L796.8 237.7 L798.8 237.1 L798.8 238.6 L800.8 238.4 L800.8 237.5 L802.8 237.2 L802.8 236.8 L804.8 236.4 L804.8 234.5 L806.7 234.2 L806.7 230.8 L808.7 230.6 L808.7 227.2 L810.7 227.3 L810.7 223.4 L812.7 222.4 L812.7 218.1 L814.7 217.6 L814.7 213.3 L816.7 212.9 L816.7 208.3 L818.6 207.7 L818.6 202.6 L820.6 201.4 L820.6 197.4 L822.6 196.6 L822.6 191.8 L824.6 191.2 L824.6 186.5 L826.6 185.7 L826.6 181.5 L828.6 180.4 L828.6 176.7 L830.5 175.9 L830.5 173.2 L832.5 172.3 L832.5 169.7 L834.5 169.7 L834.5 166.8 L836.5 166.7 L836.5 165.5 L838.5 164.8 L838.5 164.1 L840.5 164.2 L840.5 164.4 L842.5 165.3 L842.5 166.3 L844.4 166.4 L844.4 168.5 L846.4 168.9 L846.4 170.8 L848.4 172.0 L848.4 174.8 L850.4 175.7 L850.4 179.5 L852.4 179.6 L852.4 183.4 L854.4 184.2 L854.4 188.8 L856.3 190.0 L856.3 194.5 L858.3 194.5 L858.3 199.7 L860.3 200.4 L860.3 204.9 L862.3 205.6 L862.3 210.4 L864.3 211.8 L864.3 215.7 L866.3 216.6 L866.3 221.0 L868.2 221.4 L868.2 225.8 L870.2 226.4 L870.2 229.1 L872.2 229.9 L872.2 232.6 L874.2 233.0 L874.2 235.0 L876.2 235.9 L876.2 237.2 L878.2 237.0 L878.2 237.9 L880.1 238.5 L880.1 237.6 L882.1 237.4 L882.1 236.7 L884.1 236.9 L884.1 234.3 L886.1 234.3 L886.1 231.9 L888.1 230.9 L888.1 228.2 L890.1 227.3 L890.1 223.9 L892.1 223.2 L892.1 219.1 L894.0 217.9 L894.0 214.4 L896.0 213.1 L896.0 208.4 L898.0 207.4 L898.0 203.3 L900.0 202.6 L900.0 197.2 L902.0 196.9 L902.0 192.0 L904.0 191.6 L904.0 186.7 L905.9 186.5 L905.9 182.0 L907.9 181.8 L907.9 177.1 L909.9 176.7 L909.9 173.1 L911.9 173.3 L911.9 170.4 L913.9 169.3 L913.9 167.5 L915.9 167.3 L915.9 165.5 L917.8 165.3 L917.8 164.3 L919.8 164.1 L919.8 165.0 L921.8 165.2 L921.8 165.9 L923.8 165.9 L923.8 167.7 L925.8 168.5 L925.8 171.2 L927.8 171.7 L927.8 174.7 L929.7 175.1 L929.7 178.2 L931.7 178.9 L931.7 183.7 L933.7 184.1 L933.7 187.8 L935.7 188.7 L935.7 193.8 L937.7 193.9 L937.7 198.7 L939.7 199.9 L939.7 204.8 L941.7 205.6 L941.7 209.7 L943.6 211.0 L943.6 215.0 L945.6 215.9 L945.6 220.5 L947.6 221.1 L947.6 225.2 L949.6 225.7 L949.6 229.0 L951.6 229.1 L951.6 232.3 L953.6 232.6 L953.6 234.9 L955.5 236.0 L955.5 237.0 L957.5 237.7 L957.5 238.2 L959.5 238.4 L959.5 238.0 L961.5 238.0 L961.5 236.9 L963.5 236.3 L963.5 235.1 L965.5 234.2 L965.5 231.5 L967.4 231.6 L967.4 228.1 L969.4 228.3 L969.4 224.7 L971.4 224.0 L971.4 219.5 L973.4 218.4 L973.4 215.0 L975.4 213.7 L975.4 209.7 L977.4 208.9 L977.4 204.2 L979.3 202.8 L979.3 198.2 L981.3 197.8 L981.3 192.7 L983.3 191.7 L983.3 187.6 L985.3 187.2 L985.3 182.8 L987.3 181.9 L987.3 177.6 L989.3 177.4 L989.3 174.3 L991.3 172.9 L991.3 170.4 L993.2 170.3 L993.2 167.8 L995.2 167.4 L995.2 165.8 L997.2 165.2 L997.2 164.4 L999.2 164.8 L999.2 164.9 L1001.2 165.0 L1001.2 166.1 L1003.2 165.9 L1003.2 167.6 L1005.1 168.3 L1005.1 170.6 L1007.1 171.1 L1007.1 173.2 L1007.4 172.9" stroke="#008000" stroke-width="0.56" fill="none" stroke-linejoin="round"/><path d="M724.2 252.0 L724.2 294.6" stroke="#008000" stroke-width="0.56" stroke-opacity="0.5" fill="none"/>
<path d="M612.5 148.2 L614.3 144.6 L614.3 140.2 L616.3 139.2 L616.3 135.6 L618.3 134.1 L618.3 131.5 L620.2 132.2 L620.2 130.3 L622.2 130.3 L622.2 131.8 L624.2 131.6 L624.2 134.5 L626.2 135.4 L626.2 139.1 L628.2 139.4 L628.2 144.8 L630.2 146.1 L630.2 152.0 L632.1 153.4 L632.1 161.4 L634.1 161.9 L634.1 169.8 L636.1 171.4 L636.1 180.4 L638.1 181.5 L638.1 190.0 L640.1 191.7 L640.1 201.4 L642.1 202.1 L642.1 211.1 L644.1 213.2 L644.1 221.6 L646.0 223.2 L646.0 231.9 L648.0 232.6 L648.0 240.7 L650.0 242.3 L650.0 248.9 L652.0 250.1 L652.0 256.3 L654.0 257.6 L654.0 263.5 L656.0 264.2 L656.0 268.0 L657.9 268.2 L657.9 271.1 L659.9 270.7 L659.9 271.3 L661.9 271.3 L661.9 270.8 L663.9 270.3 L663.9 267.7 L665.9 266.8 L665.9 263.5 L667.9 262.8 L667.9 257.2 L669.8 255.9 L669.8 249.6 L671.8 249.1 L671.8 241.4 L673.8 240.1 L673.8 232.6 L675.8 231.3 L675.8 222.7 L677.8 220.8 L677.8 212.0 L679.8 210.6 L679.8 201.5 L681.7 200.4 L681.7 191.4 L683.7 189.0 L683.7 180.5 L685.7 179.1 L685.7 171.0 L687.7 169.5 L687.7 161.5 L689.7 160.0 L689.7 152.5 L691.7 151.3 L691.7 146.0 L693.7 144.3 L693.7 139.4 L695.6 139.1 L695.6 134.8 L697.6 134.4 L697.6 131.3 L699.6 131.5 L699.6 130.8 L701.6 130.6 L701.6 132.0 L703.6 131.8 L703.6 134.3 L705.6 135.2 L705.6 139.5 L707.5 140.0 L707.5 145.5 L709.5 146.8 L709.5 153.0 L711.5 154.4 L711.5 161.5 L713.5 162.3 L713.5 171.0 L715.5 172.4 L715.5 180.4 L717.5 181.9 L717.5 190.6 L719.4 192.0 L719.4 200.7 L721.4 202.5 L721.4 211.2 L722.7 214.0 M722.7 213.0 L724.2 217.0 L725.9 218.5 L725.9 253.0 L727.7 238.0 L727.7 251.6 L729.7 243.6 L729.7 251.0 L730.5 250.9 L731.3 251.2 L731.3 256.9 L733.3 258.1 L733.3 263.6 L735.3 264.2 L735.3 268.1 L737.3 268.0 L737.3 271.2 L739.3 271.1 L739.3 271.9 L741.3 271.3 L741.3 270.6 L743.3 270.6 L743.3 267.8 L745.2 267.3 L745.2 263.4 L747.2 262.5 L747.2 256.6 L749.2 256.1 L749.2 250.0 L751.2 248.9 L751.2 240.9 L753.2 240.4 L753.2 232.0 L755.2 230.5 L755.2 222.6 L757.1 220.2 L757.1 212.0 L759.1 209.9 L759.1 201.5 L761.1 199.2 L761.1 190.7 L763.1 188.8 L763.1 180.2 L765.1 178.4 L765.1 170.2 L767.1 169.2 L767.1 161.5 L769.0 160.1 L769.0 152.6 L771.0 151.6 L771.0 145.4 L773.0 144.2 L773.0 139.3 L775.0 139.0 L775.0 134.7 L777.0 134.1 L777.0 132.1 L779.0 131.9 L779.0 130.4 L780.9 130.7 L780.9 132.2 L782.9 132.2 L782.9 134.4 L784.9 135.4 L784.9 139.3 L786.9 140.4 L786.9 145.4 L788.9 147.1 L788.9 153.1 L790.9 153.8 L790.9 161.5 L792.9 162.6 L792.9 170.2 L794.8 171.8 L794.8 180.9 L796.8 182.1 L796.8 190.7 L798.8 192.7 L798.8 201.7 L800.8 202.9 L800.8 211.7 L802.8 213.6 L802.8 222.3 L804.8 223.8 L804.8 232.2 L806.7 233.5 L806.7 241.6 L808.7 242.8 L808.7 250.2 L810.7 251.3 L810.7 257.6 L812.7 258.1 L812.7 263.1 L814.7 264.1 L814.7 267.6 L816.7 268.1 L816.7 270.5 L818.6 270.6 L818.6 271.5 L820.6 271.9 L820.6 270.8 L822.6 270.4 L822.6 267.9 L824.6 267.4 L824.6 262.9 L826.6 262.5 L826.6 257.3 L828.6 255.9 L828.6 249.6 L830.5 248.1 L830.5 240.9 L832.5 239.3 L832.5 231.4 L834.5 230.5 L834.5 221.9 L836.5 220.4 L836.5 211.9 L838.5 209.5 L838.5 200.5 L840.5 199.2 L840.5 190.1 L842.5 188.8 L842.5 180.4 L844.4 178.6 L844.4 169.8 L846.4 168.6 L846.4 160.7 L848.4 159.8 L848.4 152.3 L850.4 151.6 L850.4 145.0 L852.4 143.8 L852.4 139.6 L854.4 138.4 L854.4 134.9 L856.3 134.2 L856.3 132.3 L858.3 131.2 L858.3 130.8 L860.3 130.9 L860.3 132.1 L862.3 132.5 L862.3 134.5 L864.3 135.6 L864.3 140.1 L866.3 140.9 L866.3 145.5 L868.2 147.0 L868.2 153.2 L870.2 154.4 L870.2 161.3 L872.2 162.6 L872.2 171.1 L874.2 172.4 L874.2 181.1 L876.2 182.2 L876.2 191.7 L878.2 192.4 L878.2 202.1 L880.1 203.7 L880.1 212.5 L882.1 214.5 L882.1 222.2 L884.1 223.9 L884.1 232.3 L886.1 234.0 L886.1 242.1 L888.1 243.2 L888.1 250.1 L890.1 251.2 L890.1 257.7 L892.1 258.6 L892.1 263.8 L894.0 263.9 L894.0 267.6 L896.0 268.5 L896.0 270.8 L898.0 271.4 L898.0 271.8 L900.0 271.4 L900.0 271.0 L902.0 270.0 L902.0 267.3 L904.0 266.6 L904.0 262.5 L905.9 262.2 L905.9 256.7 L907.9 255.8 L907.9 248.9 L909.9 248.0 L909.9 241.1 L911.9 239.4 L911.9 231.8 L913.9 229.5 L913.9 221.2 L915.9 219.7 L915.9 211.5 L917.8 209.8 L917.8 200.4 L919.8 198.9 L919.8 190.4 L921.8 188.0 L921.8 179.4 L923.8 178.0 L923.8 169.9 L925.8 168.1 L925.8 160.3 L927.8 159.7 L927.8 151.9 L929.7 151.1 L929.7 145.1 L931.7 143.6 L931.7 139.5 L933.7 137.9 L933.7 134.1 L935.7 134.2 L935.7 131.8 L937.7 131.8 L937.7 131.2 L939.7 131.3 L939.7 132.1 L941.7 132.0 L941.7 135.4 L943.6 135.5 L943.6 139.6 L945.6 140.3 L945.6 145.8 L947.6 147.2 L947.6 153.3 L949.6 154.4 L949.6 162.4 L951.6 163.0 L951.6 171.1 L953.6 173.0 L953.6 181.5 L955.5 182.9 L955.5 192.1 L957.5 193.7 L957.5 202.4 L959.5 203.8 L959.5 212.8 L961.5 214.3 L961.5 223.5 L963.5 224.9 L963.5 233.0 L965.5 234.7 L965.5 242.5 L967.4 243.2 L967.4 250.2 L969.4 252.0 L969.4 258.0 L971.4 258.5 L971.4 263.8 L973.4 264.7 L973.4 268.4 L975.4 269.2 L975.4 271.2 L977.4 270.9 L977.4 272.2 L979.3 271.7 L979.3 270.2 L981.3 270.2 L981.3 267.5 L983.3 266.8 L983.3 262.4 L985.3 262.3 L985.3 255.9 L987.3 255.4 L987.3 248.7 L989.3 248.2 L989.3 240.6 L991.3 239.2 L991.3 231.4 L993.2 229.1 L993.2 220.7 L995.2 219.4 L995.2 211.2 L997.2 209.4 L997.2 200.0 L999.2 198.2 L999.2 189.6 L1001.2 188.1 L1001.2 179.6 L1003.2 177.5 L1003.2 169.9 L1005.1 168.3 L1005.1 160.1 L1007.1 158.6 L1007.1 154.2 L1007.4 154.3" stroke="#ff0000" stroke-width="0.56" fill="none" stroke-linejoin="round"/><path d="M724.2 190.0 L724.2 276.7" stroke="#ff0000" stroke-width="0.56" stroke-opacity="0.5" fill="none"/>
<path d="M724.1 69.0 L724.1 107.8" stroke="#999" stroke-width="1.2"/><path d="M724.1 118.5 L718.3 103.6 L724.1 107.8 L729.9 103.6 Z" fill="#000"/>
<path d="M859.5 69.0 L859.5 108.0" stroke="#999" stroke-width="1.2"/><path d="M859.5 118.7 L853.7 103.8 L859.5 108.0 L865.3 103.8 Z" fill="#000"/>
<text class="a" x="676.6" y="61.4" textLength="94.2">Ligthning</text>
<text class="a" x="778.8" y="59.7" textLength="161.6">Ferroresonance</text>
<path d="M92.5 419.7 V692.9" stroke="#b4b4b4" stroke-width="1.1" fill="none"/>
<path d="M92.0 692.0 H488.0" stroke="#9c9c9c" stroke-width="1.8" fill="none"/>
<path d="M92.5 692.0 v-5.0" stroke="#b4b4b4" stroke-width="1"/>
<text x="93.5" y="718.8" text-anchor="middle">0</text>
<path d="M169.9 692.0 v-5.0" stroke="#b4b4b4" stroke-width="1"/>
<text x="170.9" y="718.8" text-anchor="middle">0.02</text>
<path d="M249.5 692.0 v-5.0" stroke="#b4b4b4" stroke-width="1"/>
<text x="250.5" y="718.8" text-anchor="middle">0.04</text>
<path d="M328.6 692.0 v-5.0" stroke="#b4b4b4" stroke-width="1"/>
<text x="329.6" y="718.8" text-anchor="middle">0.06</text>
<path d="M408.5 692.0 v-5.0" stroke="#b4b4b4" stroke-width="1"/>
<text x="409.5" y="718.8" text-anchor="middle">0.08</text>
<path d="M487.5 692.0 v-5.0" stroke="#b4b4b4" stroke-width="1"/>
<text x="488.5" y="718.8" text-anchor="middle">0.1</text>
<path d="M92.5 420.1 h5.0" stroke="#b4b4b4" stroke-width="1"/>
<text x="85.0" y="427.2" text-anchor="end">100</text>
<path d="M92.5 487.1 h5.0" stroke="#b4b4b4" stroke-width="1"/>
<text x="85.0" y="494.2" text-anchor="end">50</text>
<path d="M92.5 555.0 h5.0" stroke="#b4b4b4" stroke-width="1"/>
<text x="85.0" y="562.1" text-anchor="end">0</text>
<path d="M92.5 623.1 h5.0" stroke="#b4b4b4" stroke-width="1"/>
<text x="85.0" y="630.2" text-anchor="end">-50</text>
<path d="M92.5 691.9 h5.0" stroke="#b4b4b4" stroke-width="1"/>
<text x="85.0" y="699.0" text-anchor="end">-100</text>
<text class="l" transform="translate(20.6 556.7) rotate(-90)" text-anchor="middle" textLength="122.5">Voltage(kV)</text>
<text class="tt" x="288.8" y="399.5" text-anchor="middle">(c)</text>
<text class="l" x="286.8" y="748.6" text-anchor="middle" textLength="77">Time(s)</text>
<path d="M92.5 555.0 L92.5 554.9 L92.5 553.6 L94.5 553.6 L94.5 550.3 L96.5 549.6 L96.5 545.2 L98.5 544.6 L98.5 540.4 L100.4 539.3 L100.4 535.3 L102.4 534.2 L102.4 529.8 L104.4 529.3 L104.4 525.1 L106.4 524.2 L106.4 521.0 L108.4 520.2 L108.4 517.9 L110.4 517.5 L110.4 516.3 L112.3 516.4 L112.3 516.1 L114.3 516.1 L114.3 517.7 L116.3 517.7 L116.3 520.5 L118.3 520.8 L118.3 524.1 L120.3 524.8 L120.3 528.5 L122.3 528.9 L122.3 533.2 L124.2 533.9 L124.2 538.6 L126.2 539.4 L126.2 544.3 L128.2 544.9 L128.2 549.5 L130.0 552.0 L130.3 552.0 L130.3 592.0 L131.0 588.0 L131.0 588.0 L132.2 591.1 L132.2 606.6 L134.2 609.1 L134.2 622.0 L136.1 623.9 L136.1 634.8 L138.1 636.6 L138.1 645.0 L140.1 645.9 L140.1 652.5 L142.1 653.9 L142.1 658.7 L144.1 659.5 L144.1 663.0 L146.1 662.9 L146.1 665.1 L148.1 665.2 L148.1 665.5 L150.0 665.1 L150.0 662.4 L152.0 662.2 L152.0 655.8 L154.0 654.1 L154.0 645.6 L156.0 643.9 L156.0 633.6 L158.0 632.0 L158.0 621.2 L160.0 619.8 L160.0 607.7 L161.9 605.6 L161.9 591.1 L163.9 588.4 L163.9 572.2 L165.9 569.1 L165.9 550.0 L167.9 546.5 L167.9 528.8 L169.9 526.2 L169.9 515.6 L171.9 514.3 L171.9 506.1 L173.8 505.1 L173.8 497.3 L175.8 495.9 L175.8 489.1 L177.8 488.4 L177.8 482.0 L179.8 480.6 L179.8 475.2 L181.8 474.2 L181.8 469.9 L183.8 468.9 L183.8 465.7 L185.7 464.7 L185.7 462.1 L187.7 461.9 L187.7 459.5 L189.7 459.7 L189.7 458.7 L191.7 458.5 L191.7 458.9 L193.7 459.2 L193.7 461.2 L195.7 461.1 L195.7 464.3 L197.7 464.8 L197.7 469.2 L199.6 469.8 L199.6 475.0 L201.6 475.5 L201.6 481.3 L203.6 482.3 L203.6 488.8 L205.6 490.4 L205.6 497.0 L207.6 498.0 L207.6 505.5 L209.6 507.2 L209.6 514.7 L211.5 516.4 L211.5 524.0 L213.5 525.7 L213.5 533.3 L215.5 534.9 L215.5 542.8 L217.5 544.7 L217.5 552.3 L219.5 553.4 L219.5 560.7 L221.5 562.5 L221.5 569.1 L223.4 570.4 L223.4 577.1 L225.4 578.1 L225.4 584.1 L227.4 584.9 L227.4 590.0 L229.4 590.7 L229.4 594.7 L231.4 595.4 L231.4 598.4 L233.4 598.7 L233.4 600.4 L235.3 600.4 L235.3 601.1 L237.3 600.9 L237.3 600.8 L239.3 600.2 L239.3 598.8 L241.3 598.3 L241.3 596.2 L243.3 596.1 L243.3 593.2 L245.3 592.6 L245.3 588.7 L247.3 588.5 L247.3 584.4 L249.2 583.5 L249.2 579.4 L251.2 578.9 L251.2 574.9 L253.2 573.6 L253.2 569.3 L255.2 568.7 L255.2 564.2 L257.2 563.8 L257.2 559.8 L259.2 559.2 L259.2 555.5 L261.1 554.5 L261.1 551.4 L263.1 550.7 L263.1 548.2 L265.1 547.3 L265.1 545.5 L267.1 545.3 L267.1 543.3 L269.1 543.1 L269.1 543.3 L271.1 543.0 L271.1 543.4 L273.0 544.0 L273.0 545.3 L275.0 545.2 L275.0 547.6 L277.0 547.8 L277.0 550.9 L279.0 551.1 L279.0 555.0 L281.0 555.5 L281.0 559.5 L283.0 560.1 L283.0 564.7 L284.9 565.2 L284.9 569.8 L286.9 571.1 L286.9 575.8 L288.9 576.6 L288.9 581.4 L290.9 582.3 L290.9 587.1 L292.9 588.1 L292.9 593.3 L294.9 594.2 L294.9 598.5 L296.9 599.7 L296.9 604.1 L298.8 604.9 L298.8 608.8 L300.8 609.5 L300.8 613.1 L302.8 613.7 L302.8 617.0 L304.8 617.3 L304.8 619.2 L306.8 619.7 L306.8 621.7 L308.8 622.0 L308.8 622.7 L310.7 622.9 L310.7 622.3 L312.7 621.9 L312.7 620.5 L314.7 619.7 L314.7 616.3 L316.7 615.5 L316.7 611.6 L318.7 610.3 L318.7 604.8 L320.7 604.0 L320.7 596.9 L322.6 596.0 L322.6 588.4 L324.6 587.5 L324.6 579.3 L326.6 578.3 L326.6 569.9 L328.6 568.3 L328.6 559.2 L330.6 557.8 L330.6 548.8 L332.6 547.8 L332.6 538.7 L334.5 537.1 L334.5 528.7 L336.5 527.1 L336.5 518.9 L338.5 517.9 L338.5 510.0 L340.5 508.9 L340.5 501.9 L342.5 500.1 L342.5 494.0 L344.5 493.0 L344.5 488.3 L346.5 487.3 L346.5 483.4 L348.4 482.8 L348.4 480.0 L350.4 479.4 L350.4 478.3 L352.4 477.7 L352.4 478.1 L354.4 478.3 L354.4 479.8 L356.4 480.0 L356.4 482.7 L358.4 483.2 L358.4 486.8 L360.3 487.3 L360.3 491.6 L362.3 492.0 L362.3 497.0 L364.3 497.7 L364.3 503.6 L366.3 504.1 L366.3 509.9 L368.3 510.7 L368.3 516.8 L370.3 518.0 L370.3 523.8 L372.2 525.0 L372.2 530.9 L374.2 531.9 L374.2 537.7 L376.2 538.3 L376.2 544.2 L378.2 545.1 L378.2 549.9 L380.2 550.9 L380.2 554.9 L382.2 555.8 L382.2 559.2 L384.1 559.6 L384.1 562.7 L386.1 562.5 L386.1 564.4 L388.1 564.4 L388.1 565.6 L390.1 565.4 L390.1 564.9 L392.1 565.0 L392.1 563.5 L394.1 563.5 L394.1 562.1 L396.1 561.7 L396.1 559.1 L398.0 558.8 L398.0 556.8 L400.0 556.2 L400.0 553.2 L402.0 552.7 L402.0 549.9 L404.0 549.7 L404.0 546.9 L406.0 546.0 L406.0 543.1 L408.0 543.0 L408.0 540.6 L409.9 539.9 L409.9 537.6 L411.9 537.4 L411.9 535.3 L413.9 535.6 L413.9 534.3 L415.9 533.9 L415.9 533.1 L417.9 533.1 L417.9 533.5 L419.9 533.4 L419.9 534.0 L421.8 534.5 L421.8 535.6 L423.8 535.8 L423.8 537.6 L425.8 538.0 L425.8 540.7 L427.8 541.2 L427.8 544.0 L429.8 544.8 L429.8 548.1 L431.8 548.6 L431.8 552.0 L433.7 553.2 L433.7 556.7 L435.7 557.3 L435.7 561.9 L437.7 562.2 L437.7 566.9 L439.7 567.4 L439.7 572.1 L441.7 573.2 L441.7 577.8 L443.7 578.1 L443.7 582.7 L445.7 583.8 L445.7 588.4 L447.6 589.1 L447.6 593.2 L449.6 594.3 L449.6 598.8 L451.6 599.0 L451.6 603.1 L453.6 604.5 L453.6 608.0 L455.6 608.6 L455.6 612.1 L457.6 612.7 L457.6 616.3 L459.5 616.6 L459.5 619.3 L461.5 619.7 L461.5 622.4 L463.5 622.5 L463.5 624.3 L465.5 624.7 L465.5 625.8 L467.5 625.6 L467.5 626.2 L469.5 626.4 L469.5 626.2 L471.4 626.2 L471.4 624.7 L473.4 624.3 L473.4 621.8 L475.4 621.3 L475.4 618.5 L477.4 617.4 L477.4 613.3 L479.4 613.2 L479.4 608.9 L481.4 607.5 L481.4 603.5 L483.3 602.8 L483.3 598.2 L485.3 597.3 L485.3 593.0 L487.3 592.5 L487.3 589.7 L487.5 590.0" stroke="#0000ff" stroke-width="0.56" fill="none" stroke-linejoin="round"/>
<path d="M92.5 593.5 L92.5 593.3 L92.5 593.8 L94.5 594.3 L94.5 594.9 L96.5 595.6 L96.5 596.5 L98.5 596.6 L98.5 597.0 L100.4 596.9 L100.4 595.6 L102.4 595.5 L102.4 593.9 L104.4 593.1 L104.4 590.8 L106.4 589.9 L106.4 587.0 L108.4 585.9 L108.4 582.3 L110.4 581.4 L110.4 576.6 L112.3 575.7 L112.3 570.8 L114.3 570.1 L114.3 564.7 L116.3 564.2 L116.3 559.0 L118.3 557.4 L118.3 552.3 L120.3 551.4 L120.3 546.5 L122.3 545.3 L122.3 540.5 L124.2 540.2 L124.2 535.3 L126.2 535.0 L126.2 530.6 L128.2 530.0 L128.2 526.7 L129.7 525.8 L130.3 525.8 L130.3 556.0 L131.0 551.0 L131.0 551.0 L132.2 550.4 L132.2 549.4 L134.2 549.2 L134.2 549.3 L136.1 549.6 L136.1 552.4 L138.1 553.1 L138.1 557.2 L140.1 558.1 L140.1 564.2 L142.1 565.3 L142.1 572.2 L144.1 573.0 L144.1 579.6 L146.1 580.9 L146.1 587.4 L148.1 588.5 L148.1 594.0 L150.0 594.8 L150.0 598.7 L152.0 599.1 L152.0 600.8 L154.0 601.3 L154.0 599.6 L156.0 599.0 L156.0 592.9 L158.0 591.5 L158.0 583.8 L160.0 582.7 L160.0 575.8 L161.9 574.9 L161.9 568.6 L163.9 567.8 L163.9 562.1 L165.9 560.6 L165.9 555.5 L167.9 555.2 L167.9 550.8 L169.9 550.4 L169.9 547.4 L171.9 546.9 L171.9 544.0 L173.8 543.3 L173.8 541.1 L175.8 541.2 L175.8 539.3 L177.8 538.7 L177.8 537.0 L179.8 536.9 L179.8 535.0 L181.8 534.7 L181.8 533.4 L183.8 533.1 L183.8 531.7 L185.7 532.0 L185.7 530.3 L187.7 529.7 L187.7 527.2 L189.7 526.6 L189.7 523.8 L191.7 523.2 L191.7 519.6 L193.7 519.1 L193.7 513.6 L195.7 512.9 L195.7 507.7 L197.7 506.6 L197.7 501.4 L199.6 501.1 L199.6 497.0 L201.6 496.3 L201.6 492.0 L203.6 491.0 L203.6 487.0 L205.6 486.3 L205.6 483.1 L207.6 482.2 L207.6 480.3 L209.6 480.3 L209.6 479.6 L211.5 479.4 L211.5 480.1 L213.5 480.2 L213.5 482.1 L215.5 482.5 L215.5 485.6 L217.5 486.4 L217.5 489.7 L219.5 490.4 L219.5 495.0 L221.5 496.2 L221.5 501.4 L223.4 502.5 L223.4 508.1 L225.4 509.4 L225.4 515.6 L227.4 516.7 L227.4 523.0 L229.4 524.4 L229.4 531.3 L231.4 532.7 L231.4 540.1 L233.4 541.2 L233.4 548.6 L235.3 549.8 L235.3 557.0 L237.3 558.5 L237.3 565.5 L239.3 566.4 L239.3 574.1 L241.3 575.3 L241.3 581.8 L243.3 582.8 L243.3 588.9 L245.3 590.3 L245.3 596.2 L247.3 597.3 L247.3 602.1 L249.2 603.0 L249.2 607.8 L251.2 608.6 L251.2 612.2 L253.2 613.1 L253.2 616.0 L255.2 616.2 L255.2 617.9 L257.2 618.0 L257.2 619.4 L259.2 619.3 L259.2 619.1 L261.1 619.1 L261.1 617.9 L263.1 617.2 L263.1 615.1 L265.1 615.0 L265.1 612.4 L267.1 611.4 L267.1 608.3 L269.1 607.3 L269.1 603.8 L271.1 603.3 L271.1 598.6 L273.0 598.0 L273.0 593.3 L275.0 592.9 L275.0 587.6 L277.0 587.0 L277.0 582.0 L279.0 580.9 L279.0 576.5 L281.0 575.2 L281.0 570.9 L283.0 569.6 L283.0 565.1 L284.9 564.3 L284.9 560.4 L286.9 559.1 L286.9 555.7 L288.9 555.2 L288.9 551.7 L290.9 551.0 L290.9 548.2 L292.9 547.5 L292.9 545.4 L294.9 545.1 L294.9 543.9 L296.9 544.2 L296.9 543.8 L298.8 544.1 L298.8 544.9 L300.8 544.7 L300.8 546.6 L302.8 546.9 L302.8 549.9 L304.8 550.2 L304.8 553.6 L306.8 554.2 L306.8 558.7 L308.8 558.8 L308.8 563.6 L310.7 564.0 L310.7 568.7 L312.7 569.2 L312.7 573.7 L314.7 574.6 L314.7 578.9 L316.7 579.1 L316.7 582.9 L318.7 583.5 L318.7 586.9 L320.7 587.5 L320.7 590.3 L322.6 590.3 L322.6 592.1 L324.6 592.2 L324.6 592.6 L326.6 592.1 L326.6 591.7 L328.6 591.5 L328.6 590.6 L330.6 590.3 L330.6 588.1 L332.6 587.2 L332.6 585.0 L334.5 583.8 L334.5 581.0 L336.5 580.4 L336.5 576.3 L338.5 575.6 L338.5 571.5 L340.5 570.5 L340.5 565.3 L342.5 564.7 L342.5 559.8 L344.5 558.9 L344.5 553.3 L346.5 552.3 L346.5 547.4 L348.4 546.1 L348.4 540.8 L350.4 539.6 L350.4 534.3 L352.4 533.0 L352.4 527.5 L354.4 526.8 L354.4 521.1 L356.4 520.3 L356.4 515.0 L358.4 514.1 L358.4 509.2 L360.3 508.1 L360.3 504.0 L362.3 503.3 L362.3 499.0 L364.3 498.4 L364.3 494.2 L366.3 493.7 L366.3 490.5 L368.3 490.4 L368.3 487.8 L370.3 487.5 L370.3 485.9 L372.2 484.9 L372.2 484.0 L374.2 484.3 L374.2 484.1 L376.2 484.0 L376.2 485.0 L378.2 484.6 L378.2 486.3 L380.2 486.7 L380.2 489.5 L382.2 490.0 L382.2 493.1 L384.1 494.1 L384.1 497.6 L386.1 498.1 L386.1 503.1 L388.1 503.8 L388.1 509.0 L390.1 509.7 L390.1 514.8 L392.1 515.7 L392.1 521.9 L394.1 522.4 L394.1 528.4 L396.1 529.7 L396.1 535.5 L398.0 536.9 L398.0 542.7 L400.0 544.1 L400.0 550.5 L402.0 551.7 L402.0 557.3 L404.0 558.5 L404.0 564.4 L406.0 565.3 L406.0 571.2 L408.0 572.0 L408.0 576.9 L409.9 577.8 L409.9 583.0 L411.9 584.1 L411.9 588.0 L413.9 588.8 L413.9 592.8 L415.9 593.1 L415.9 596.2 L417.9 596.8 L417.9 599.3 L419.9 599.1 L419.9 600.8 L421.8 601.3 L421.8 601.6 L423.8 601.8 L423.8 600.9 L425.8 601.0 L425.8 599.6 L427.8 599.1 L427.8 596.5 L429.8 596.5 L429.8 593.5 L431.8 592.4 L431.8 588.9 L433.7 588.7 L433.7 584.3 L435.7 583.8 L435.7 579.2 L437.7 578.6 L437.7 574.6 L439.7 573.2 L439.7 568.8 L441.7 568.2 L441.7 563.7 L443.7 563.0 L443.7 559.0 L445.7 558.9 L445.7 555.0 L447.6 554.3 L447.6 551.2 L449.6 551.2 L449.6 548.9 L451.6 548.3 L451.6 546.6 L453.6 546.3 L453.6 545.9 L455.6 546.0 L455.6 546.6 L457.6 546.7 L457.6 547.7 L459.5 548.2 L459.5 550.3 L461.5 551.0 L461.5 553.5 L463.5 554.0 L463.5 557.4 L465.5 558.0 L465.5 562.1 L467.5 562.6 L467.5 566.9 L469.5 567.7 L469.5 572.1 L471.4 572.6 L471.4 577.4 L473.4 578.6 L473.4 583.2 L475.4 583.9 L475.4 588.6 L477.4 589.4 L477.4 594.6 L479.4 594.7 L479.4 599.3 L481.4 600.6 L481.4 604.6 L483.3 605.2 L483.3 609.1 L485.3 609.3 L485.3 612.5 L487.3 613.6 L487.3 614.9 L487.5 615.0" stroke="#008000" stroke-width="0.56" fill="none" stroke-linejoin="round"/>
<path d="M92.5 521.5 L92.5 521.7 L92.5 522.8 L94.5 523.9 L94.5 527.1 L96.5 528.0 L96.5 531.1 L98.5 532.5 L98.5 536.4 L100.4 536.9 L100.4 541.7 L102.4 542.5 L102.4 548.2 L104.4 549.5 L104.4 554.8 L106.4 555.7 L106.4 561.2 L108.4 561.9 L108.4 566.4 L110.4 567.3 L110.4 572.4 L112.3 573.1 L112.3 576.8 L114.3 577.8 L114.3 581.6 L116.3 582.4 L116.3 586.0 L118.3 586.2 L118.3 590.4 L120.3 590.9 L120.3 594.5 L122.3 595.6 L122.3 597.4 L124.2 597.7 L124.2 597.4 L126.2 597.0 L126.2 596.8 L128.2 596.9 L128.2 596.7 L129.7 596.7 L130.3 596.7 L130.3 632.4 L131.0 617.0 L131.6 623.0 L132.5 616.0 L133.5 621.0 L135.0 619.0 L135.0 619.0 L136.1 619.5 L136.1 623.2 L138.1 623.9 L138.1 625.4 L140.1 625.8 L140.1 626.3 L142.1 626.5 L142.1 626.4 L144.1 626.4 L144.1 625.2 L146.1 624.5 L146.1 620.0 L148.1 619.9 L148.1 614.1 L150.0 613.0 L150.0 606.6 L152.0 605.3 L152.0 598.4 L154.0 596.2 L154.0 585.7 L156.0 584.3 L156.0 572.4 L158.0 570.3 L158.0 558.3 L160.0 556.6 L160.0 545.1 L161.9 542.9 L161.9 531.8 L163.9 529.7 L163.9 519.5 L165.9 517.6 L165.9 507.8 L167.9 506.2 L167.9 495.2 L169.9 493.7 L169.9 484.4 L171.9 483.0 L171.9 477.5 L173.8 476.6 L173.8 474.8 L175.8 475.2 L175.8 476.2 L177.8 476.6 L177.8 479.7 L179.8 480.5 L179.8 484.7 L181.8 485.5 L181.8 491.2 L183.8 492.2 L183.8 498.3 L185.7 499.0 L185.7 505.3 L187.7 506.9 L187.7 513.1 L189.7 514.0 L189.7 520.2 L191.7 521.1 L191.7 525.9 L193.7 527.3 L193.7 531.6 L195.7 531.9 L195.7 535.1 L197.7 535.3 L197.7 537.6 L199.6 538.4 L199.6 540.4 L201.6 541.0 L201.6 542.3 L203.6 542.6 L203.6 543.9 L205.6 544.1 L205.6 544.0 L207.6 544.5 L207.6 544.1 L209.6 544.5 L209.6 544.5 L211.5 544.1 L211.5 544.0 L213.5 544.2 L213.5 544.1 L215.5 543.8 L215.5 544.1 L217.5 543.9 L217.5 543.8 L219.5 543.8 L219.5 542.9 L221.5 543.0 L221.5 541.6 L223.4 541.5 L223.4 540.7 L225.4 540.5 L225.4 538.4 L227.4 538.8 L227.4 536.7 L229.4 536.5 L229.4 535.6 L231.4 535.3 L231.4 533.7 L233.4 533.3 L233.4 532.6 L235.3 532.5 L235.3 531.9 L237.3 532.0 L237.3 531.2 L239.3 531.8 L239.3 532.0 L241.3 532.1 L241.3 534.1 L243.3 533.9 L243.3 536.4 L245.3 537.1 L245.3 539.5 L247.3 540.1 L247.3 543.6 L249.2 544.5 L249.2 547.9 L251.2 548.7 L251.2 553.5 L253.2 554.3 L253.2 558.4 L255.2 559.3 L255.2 564.5 L257.2 565.1 L257.2 570.2 L259.2 571.3 L259.2 576.7 L261.1 577.4 L261.1 582.6 L263.1 583.4 L263.1 589.1 L265.1 589.7 L265.1 594.5 L267.1 595.3 L267.1 600.5 L269.1 601.1 L269.1 605.3 L271.1 606.6 L271.1 610.5 L273.0 611.0 L273.0 614.5 L275.0 615.2 L275.0 618.7 L277.0 619.0 L277.0 621.6 L279.0 621.8 L279.0 623.3 L281.0 623.9 L281.0 624.5 L283.0 624.9 L283.0 625.1 L284.9 624.8 L284.9 624.0 L286.9 624.0 L286.9 622.4 L288.9 622.4 L288.9 620.6 L290.9 619.9 L290.9 617.4 L292.9 616.7 L292.9 613.9 L294.9 612.9 L294.9 609.6 L296.9 608.7 L296.9 605.0 L298.8 604.4 L298.8 600.0 L300.8 599.3 L300.8 594.6 L302.8 593.2 L302.8 589.0 L304.8 588.1 L304.8 582.6 L306.8 581.7 L306.8 577.2 L308.8 576.1 L308.8 570.8 L310.7 569.9 L310.7 565.0 L312.7 564.2 L312.7 558.8 L314.7 558.0 L314.7 553.1 L316.7 552.4 L316.7 548.0 L318.7 546.5 L318.7 542.3 L320.7 541.7 L320.7 537.3 L322.6 537.3 L322.6 533.1 L324.6 532.9 L324.6 529.4 L326.6 529.2 L326.6 526.4 L328.6 525.5 L328.6 523.9 L330.6 523.0 L330.6 521.9 L332.6 521.3 L332.6 520.6 L334.5 520.4 L334.5 520.5 L336.5 520.2 L336.5 521.1 L338.5 521.4 L338.5 523.1 L340.5 523.1 L340.5 525.4 L342.5 525.8 L342.5 528.4 L344.5 528.7 L344.5 531.4 L346.5 532.1 L346.5 535.4 L348.4 535.6 L348.4 539.4 L350.4 540.0 L350.4 543.0 L352.4 543.6 L352.4 546.5 L354.4 547.2 L354.4 549.9 L356.4 550.2 L356.4 552.7 L358.4 553.2 L358.4 555.1 L360.3 555.0 L360.3 556.3 L362.3 556.5 L362.3 557.2 L364.3 557.0 L364.3 556.5 L366.3 556.2 L366.3 554.9 L368.3 554.5 L368.3 552.2 L370.3 551.6 L370.3 548.5 L372.2 548.1 L372.2 544.5 L374.2 543.5 L374.2 539.8 L376.2 539.0 L376.2 534.8 L378.2 533.5 L378.2 528.8 L380.2 528.3 L380.2 523.3 L382.2 522.5 L382.2 518.2 L384.1 517.0 L384.1 512.6 L386.1 511.5 L386.1 507.0 L388.1 506.7 L388.1 502.3 L390.1 501.8 L390.1 498.4 L392.1 497.8 L392.1 494.7 L394.1 493.9 L394.1 491.9 L396.1 491.6 L396.1 489.9 L398.0 489.6 L398.0 489.2 L400.0 489.5 L400.0 490.1 L402.0 490.2 L402.0 492.0 L404.0 492.8 L404.0 496.1 L406.0 496.7 L406.0 500.5 L408.0 501.3 L408.0 506.8 L409.9 507.4 L409.9 513.1 L411.9 514.3 L411.9 521.0 L413.9 521.7 L413.9 528.7 L415.9 530.5 L415.9 537.6 L417.9 539.1 L417.9 546.5 L419.9 547.8 L419.9 555.9 L421.8 556.9 L421.8 564.8 L423.8 566.5 L423.8 574.1 L425.8 575.3 L425.8 583.1 L427.8 584.1 L427.8 591.6 L429.8 592.2 L429.8 599.2 L431.8 600.1 L431.8 606.6 L433.7 607.5 L433.7 613.0 L435.7 613.8 L435.7 618.0 L437.7 618.6 L437.7 622.4 L439.7 622.8 L439.7 625.6 L441.7 625.4 L441.7 627.2 L443.7 626.7 L443.7 627.1 L445.7 626.5 L445.7 625.8 L447.6 625.3 L447.6 623.5 L449.6 622.8 L449.6 620.2 L451.6 619.9 L451.6 616.2 L453.6 615.1 L453.6 611.0 L455.6 610.4 L455.6 606.0 L457.6 605.0 L457.6 600.3 L459.5 599.3 L459.5 593.9 L461.5 593.0 L461.5 587.9 L463.5 587.2 L463.5 581.6 L465.5 580.5 L465.5 575.8 L467.5 574.9 L467.5 569.2 L469.5 568.4 L469.5 563.6 L471.4 562.9 L471.4 558.8 L473.4 558.3 L473.4 554.2 L475.4 553.3 L475.4 550.4 L477.4 550.0 L477.4 547.7 L479.4 547.1 L479.4 545.6 L481.4 545.5 L481.4 545.0 L483.3 545.2 L483.3 545.4 L485.3 545.2 L485.3 545.6 L487.3 545.9 L487.3 545.8 L487.5 546.2" stroke="#ff0000" stroke-width="0.56" fill="none" stroke-linejoin="round"/>
<path d="M166.4 449.3 L142.1 505.6" stroke="#222" stroke-width="0.85"/><path d="M137.8 515.4 L138.4 499.4 L142.1 505.6 L149.0 504.0 Z" fill="#000"/>
<path d="M327.1 651.5 L327.1 627.0" stroke="#999" stroke-width="1.2"/><path d="M327.1 616.3 L332.9 631.2 L327.1 627.0 L321.3 631.2 Z" fill="#000"/>
<text class="a" x="94.3" y="441.6" textLength="143.7">Arc grounding</text>
<text class="a" x="171.6" y="672.9" textLength="310.2">Sub-frequency ferroresonance</text>
<path d="M612.5 419.7 V692.9" stroke="#b4b4b4" stroke-width="1.1" fill="none"/>
<path d="M612.0 692.0 H1007.9" stroke="#9c9c9c" stroke-width="1.8" fill="none"/>
<path d="M612.5 692.0 v-5.0" stroke="#b4b4b4" stroke-width="1"/>
<text x="613.5" y="718.8" text-anchor="middle">0</text>
<path d="M690.0 692.0 v-5.0" stroke="#b4b4b4" stroke-width="1"/>
<text x="691.0" y="718.8" text-anchor="middle">0.02</text>
<path d="M769.3 692.0 v-5.0" stroke="#b4b4b4" stroke-width="1"/>
<text x="770.3" y="718.8" text-anchor="middle">0.04</text>
<path d="M848.6 692.0 v-5.0" stroke="#b4b4b4" stroke-width="1"/>
<text x="849.6" y="718.8" text-anchor="middle">0.06</text>
<path d="M928.0 692.0 v-5.0" stroke="#b4b4b4" stroke-width="1"/>
<text x="929.0" y="718.8" text-anchor="middle">0.08</text>
<path d="M1007.4 692.0 v-5.0" stroke="#b4b4b4" stroke-width="1"/>
<text x="1008.4" y="718.8" text-anchor="middle">0.1</text>
<path d="M612.5 420.1 h5.0" stroke="#b4b4b4" stroke-width="1"/>
<text x="605.1" y="427.2" text-anchor="end">100</text>
<path d="M612.5 487.1 h5.0" stroke="#b4b4b4" stroke-width="1"/>
<text x="605.1" y="494.2" text-anchor="end">50</text>
<path d="M612.5 555.0 h5.0" stroke="#b4b4b4" stroke-width="1"/>
<text x="605.1" y="562.1" text-anchor="end">0</text>
<path d="M612.5 623.1 h5.0" stroke="#b4b4b4" stroke-width="1"/>
<text x="605.1" y="630.2" text-anchor="end">-50</text>
<path d="M612.5 691.9 h5.0" stroke="#b4b4b4" stroke-width="1"/>
<text x="605.1" y="699.0" text-anchor="end">-100</text>
<text class="l" transform="translate(540.6 556.7) rotate(-90)" text-anchor="middle" textLength="122.5">Voltage(kV)</text>
<text class="tt" x="808.8" y="399.5" text-anchor="middle">(d)</text>
<text class="l" x="806.8" y="748.6" text-anchor="middle" textLength="77">Time(s)</text>
<path d="M612.5 553.9 L614.3 554.0 L614.3 553.5 L616.3 553.8 L616.3 554.2 L618.3 553.7 L618.3 553.5 L620.2 553.3 L620.2 553.8 L622.2 553.6 L622.2 553.7 L624.2 554.5 L624.2 553.6 L626.2 553.4 L626.2 554.1 L628.2 554.0 L628.2 553.6 L630.2 553.9 L630.2 553.4 L632.1 553.4 L632.1 554.4 L634.1 554.3 L634.1 554.3 L636.1 554.3 L636.1 556.4 L638.1 556.2 L638.1 556.9 L640.1 556.4 L640.1 555.9 L642.1 556.4 L642.1 556.0 L644.1 556.9 L644.1 556.7 L646.0 556.6 L646.0 555.5 L648.0 556.0 L648.0 553.7 L650.0 554.2 L650.0 554.1 L652.0 554.0 L652.0 554.4 L654.0 553.9 L654.0 554.0 L656.0 553.9 L656.0 554.6 L657.9 554.6 L657.9 554.5 L659.9 553.5 L659.9 554.6 L661.9 554.6 L661.9 554.5 L663.9 554.1 L663.9 554.7 L665.9 554.0 L665.9 553.9 L667.9 553.5 L667.9 553.5 L669.8 553.6 L669.8 553.7 L671.8 553.5 L671.8 553.8 L673.8 554.2 L673.8 553.7 L675.8 553.7 L675.8 553.7 L677.8 554.3 L677.8 554.1 L679.8 554.4 L679.8 554.3 L681.7 554.0 L681.7 554.2 L683.7 554.1 L683.7 554.7 L685.7 553.7 L685.7 554.6 L687.7 554.1 L687.7 554.2 L689.0 554.1 L689.8 554.6 L689.8 563.2 L690.3 554.6 L691.0 554.1 L691.7 554.0 L691.7 554.3 L693.7 554.6 L693.7 553.6 L695.6 554.4 L695.6 554.5 L697.6 553.6 L697.6 554.5 L699.6 554.6 L699.6 554.4 L701.6 553.5 L701.6 554.7 L703.6 553.9 L703.6 553.6 L705.6 553.9 L705.6 553.5 L707.5 554.3 L707.5 554.6 L709.5 554.4 L709.5 553.8 L711.5 553.9 L711.5 554.3 L713.5 553.5 L713.5 554.1 L715.5 553.9 L715.5 555.9 L717.5 555.8 L717.5 556.3 L719.4 556.8 L719.4 556.9 L721.4 556.8 L721.4 556.1 L723.4 557.1 L723.4 556.4 L725.4 556.5 L725.4 555.6 L727.4 555.1 L727.4 554.4 L729.4 553.8 L729.4 554.4 L731.3 553.6 L731.3 554.2 L733.3 554.0 L733.3 553.8 L735.3 554.2 L735.3 554.2 L737.3 554.2 L737.3 553.7 L739.3 554.3 L739.3 553.6 L741.3 553.6 L741.3 554.1 L743.3 554.0 L743.3 554.7 L745.2 554.4 L745.2 553.6 L747.2 554.6 L747.2 554.6 L749.2 554.5 L749.2 553.7 L751.2 554.3 L751.2 554.5 L753.2 553.6 L753.2 553.6 L755.2 553.8 L755.2 554.1 L757.1 553.9 L757.1 553.5 L759.1 553.7 L759.1 553.7 L761.1 554.0 L761.1 553.8 L763.1 553.7 L763.1 554.6 L765.1 554.1 L765.1 553.8 L767.1 553.6 L767.1 553.5 L769.0 554.1 L769.8 554.0 L769.8 550.2 L770.3 554.0 L771.0 554.1 L771.0 554.5 L771.0 553.6 L773.0 554.6 L773.0 554.0 L775.0 553.7 L775.0 554.2 L777.0 554.5 L777.0 554.0 L779.0 554.4 L779.0 554.4 L780.9 554.4 L780.9 554.5 L782.9 554.3 L782.9 554.7 L784.9 553.7 L784.9 554.5 L786.9 554.6 L786.9 553.9 L788.9 554.6 L788.9 554.2 L790.9 554.2 L790.9 553.7 L792.9 554.7 L792.9 554.4 L794.8 553.8 L794.8 553.8 L796.8 554.2 L796.8 554.1 L798.8 554.7 L798.8 553.9 L799.5 554.2 L799.9 554.6 L799.9 628.0 L801.0 610.0 L801.7 644.4 L802.6 600.0 L803.0 576.4 L803.7 590.0 L804.4 604.0 L805.5 598.0 L807.0 609.5 L808.0 600.0 L808.0 600.0 L808.7 599.8 L808.7 595.7 L810.7 594.8 L810.7 588.7 L812.7 587.8 L812.7 581.2 L814.7 579.9 L814.7 573.7 L816.7 572.7 L816.7 566.0 L818.6 564.9 L818.6 558.2 L820.6 557.1 L820.6 549.5 L822.6 548.3 L822.6 541.9 L824.6 540.6 L824.6 534.8 L826.6 534.4 L826.6 530.2 L828.6 529.5 L828.6 526.7 L830.5 526.4 L830.5 523.2 L832.5 522.8 L832.5 519.9 L834.5 519.5 L834.5 517.0 L836.5 516.9 L836.5 515.8 L838.5 515.5 L838.5 514.4 L840.5 514.4 L840.5 514.5 L842.5 514.7 L842.5 516.0 L844.4 516.4 L844.4 518.5 L846.4 519.1 L846.4 521.8 L848.4 522.0 L848.4 525.4 L850.4 526.2 L850.4 530.4 L852.4 531.3 L852.4 536.2 L854.4 536.7 L854.4 541.8 L856.3 542.8 L856.3 547.6 L858.3 548.9 L858.3 553.8 L860.3 554.8 L860.3 560.3 L862.3 561.0 L862.3 566.0 L864.3 567.2 L864.3 572.1 L866.3 572.6 L866.3 577.2 L868.2 577.8 L868.2 581.8 L870.2 582.7 L870.2 585.6 L872.2 586.3 L872.2 588.7 L874.2 589.2 L874.2 590.9 L876.2 591.5 L876.2 592.3 L878.2 592.4 L878.2 591.8 L880.1 592.0 L880.1 590.7 L882.1 590.5 L882.1 588.3 L884.1 588.1 L884.1 585.2 L886.1 584.4 L886.1 580.5 L888.1 580.2 L888.1 575.7 L890.1 575.3 L890.1 570.2 L892.1 569.5 L892.1 564.7 L894.0 563.5 L894.0 558.4 L896.0 557.6 L896.0 551.9 L898.0 551.0 L898.0 545.5 L900.0 544.6 L900.0 539.1 L902.0 538.2 L902.0 533.7 L904.0 532.6 L904.0 527.8 L905.9 527.0 L905.9 522.8 L907.9 521.8 L907.9 518.0 L909.9 517.5 L909.9 514.5 L911.9 513.9 L911.9 511.6 L913.9 511.2 L913.9 509.6 L915.9 509.7 L915.9 508.8 L917.8 508.7 L917.8 509.3 L919.8 509.9 L919.8 511.2 L921.8 511.6 L921.8 513.4 L923.8 514.2 L923.8 516.5 L925.8 517.4 L925.8 521.2 L927.8 522.0 L927.8 525.4 L929.7 526.6 L929.7 530.9 L931.7 531.7 L931.7 536.2 L933.7 537.3 L933.7 542.5 L935.7 543.4 L935.7 548.2 L937.7 549.0 L937.7 554.3 L939.7 555.0 L939.7 560.4 L941.7 561.6 L941.7 566.4 L943.6 567.2 L943.6 571.7 L945.6 572.4 L945.6 576.6 L947.6 577.5 L947.6 581.3 L949.6 581.9 L949.6 585.5 L951.6 585.6 L951.6 588.1 L953.6 588.6 L953.6 590.6 L955.5 590.9 L955.5 592.0 L957.5 592.1 L957.5 592.3 L959.5 592.5 L959.5 591.5 L961.5 591.2 L961.5 589.5 L963.5 588.8 L963.5 586.7 L965.5 585.9 L965.5 582.5 L967.4 582.0 L967.4 578.1 L969.4 577.6 L969.4 572.9 L971.4 572.1 L971.4 567.6 L973.4 566.9 L973.4 561.8 L975.4 561.0 L975.4 555.5 L977.4 555.1 L977.4 549.6 L979.3 548.6 L979.3 543.7 L981.3 542.7 L981.3 537.9 L983.3 537.2 L983.3 532.3 L985.3 531.5 L985.3 527.1 L987.3 526.6 L987.3 522.8 L989.3 521.8 L989.3 518.9 L991.3 517.8 L991.3 515.3 L993.2 515.1 L993.2 513.7 L995.2 513.1 L995.2 512.3 L997.2 512.6 L997.2 512.8 L999.2 513.1 L999.2 514.8 L1001.2 515.0 L1001.2 517.7 L1003.2 518.2 L1003.2 521.2 L1005.1 521.8 L1005.1 524.9 L1007.0 527.0" stroke="#0000ff" stroke-width="0.56" fill="none" stroke-linejoin="round"/>
<path d="M612.5 534.5 L614.3 531.6 L614.3 525.9 L616.3 524.4 L616.3 518.3 L618.3 517.5 L618.3 511.4 L620.2 510.0 L620.2 505.0 L622.2 504.0 L622.2 499.5 L624.2 499.1 L624.2 496.8 L626.2 496.4 L626.2 496.9 L628.2 497.2 L628.2 498.0 L630.2 498.3 L630.2 501.1 L632.1 501.7 L632.1 504.9 L634.1 505.9 L634.1 510.1 L636.1 510.6 L636.1 515.8 L638.1 516.8 L638.1 523.1 L640.1 523.8 L640.1 530.1 L642.1 531.4 L642.1 537.9 L644.1 539.3 L644.1 546.1 L646.0 547.1 L646.0 554.0 L648.0 555.7 L648.0 562.3 L650.0 563.9 L650.0 570.7 L652.0 571.7 L652.0 578.6 L654.0 579.2 L654.0 585.5 L656.0 587.0 L656.0 592.9 L657.9 593.4 L657.9 598.7 L659.9 599.8 L659.9 603.9 L661.9 605.0 L661.9 608.5 L663.9 609.1 L663.9 611.7 L665.9 611.7 L665.9 613.3 L667.9 613.7 L667.9 613.7 L669.8 613.9 L669.8 612.3 L671.8 611.9 L671.8 609.1 L673.8 608.7 L673.8 604.8 L675.8 604.0 L675.8 598.4 L677.8 597.3 L677.8 591.2 L679.8 589.8 L679.8 582.7 L681.7 581.3 L681.7 574.2 L683.7 572.9 L683.7 564.9 L685.7 563.4 L685.7 555.2 L687.7 553.9 L687.7 545.5 L689.7 544.4 L689.7 536.4 L691.7 535.2 L691.7 527.2 L693.7 526.4 L693.7 519.4 L695.6 518.3 L695.6 512.0 L697.6 511.4 L697.6 505.7 L699.6 504.9 L699.6 500.9 L701.6 500.2 L701.6 498.2 L703.6 497.3 L703.6 496.6 L705.6 496.6 L705.6 496.9 L707.5 496.9 L707.5 499.2 L709.5 499.3 L709.5 502.3 L711.5 503.0 L711.5 506.8 L713.5 507.6 L713.5 512.0 L715.5 513.0 L715.5 518.3 L717.5 519.8 L717.5 525.4 L719.4 526.4 L719.4 532.9 L721.4 534.7 L721.4 541.1 L723.4 542.6 L723.4 549.8 L725.4 550.9 L725.4 557.9 L727.4 559.5 L727.4 566.5 L729.4 567.4 L729.4 574.7 L731.3 575.9 L731.3 582.3 L733.3 583.3 L733.3 589.9 L735.3 591.0 L735.3 596.4 L737.3 597.3 L737.3 602.3 L739.3 603.0 L739.3 607.5 L741.3 607.9 L741.3 611.4 L743.3 611.6 L743.3 613.8 L745.2 613.9 L745.2 615.5 L747.2 614.8 L747.2 614.8 L749.2 614.6 L749.2 612.2 L751.2 612.3 L751.2 608.4 L753.2 608.0 L753.2 603.0 L755.2 602.6 L755.2 597.1 L757.1 595.9 L757.1 589.1 L759.1 588.3 L759.1 581.0 L761.1 579.5 L761.1 572.2 L763.1 570.4 L763.1 562.9 L765.1 560.9 L765.1 553.5 L767.1 551.6 L767.1 543.9 L769.0 542.7 L769.0 535.0 L771.0 533.1 L771.0 526.3 L773.0 524.8 L773.0 518.4 L775.0 517.0 L775.0 510.9 L777.0 510.2 L777.0 505.1 L779.0 504.4 L779.0 500.6 L780.9 499.8 L780.9 497.7 L782.9 497.4 L782.9 496.5 L784.9 496.1 L784.9 497.1 L786.9 497.1 L786.9 500.0 L788.9 500.9 L788.9 505.1 L790.9 506.0 L790.9 511.1 L792.9 512.2 L792.9 517.7 L794.8 518.7 L794.8 524.8 L796.8 525.9 L796.8 531.8 L798.8 533.0 L798.8 537.0 L799.0 536.7 L799.5 536.7 L799.5 589.6 L801.7 612.0 L802.5 590.0 L804.4 587.0 L806.0 592.0 L806.0 592.0 L806.7 592.1 L806.7 590.5 L808.7 590.0 L808.7 589.8 L810.7 589.7 L810.7 591.4 L812.7 591.4 L812.7 594.6 L814.7 595.1 L814.7 597.2 L816.7 597.3 L816.7 597.2 L818.6 596.6 L818.6 595.5 L820.6 595.5 L820.6 593.1 L822.6 592.8 L822.6 589.8 L824.6 589.2 L824.6 585.8 L826.6 585.4 L826.6 581.1 L828.6 580.8 L828.6 576.5 L830.5 575.3 L830.5 570.6 L832.5 570.0 L832.5 565.3 L834.5 564.2 L834.5 559.0 L836.5 558.2 L836.5 553.4 L838.5 552.4 L838.5 546.9 L840.5 546.3 L840.5 541.4 L842.5 540.5 L842.5 535.7 L844.4 535.3 L844.4 530.9 L846.4 530.6 L846.4 526.7 L848.4 525.6 L848.4 522.8 L850.4 522.1 L850.4 519.7 L852.4 519.1 L852.4 517.8 L854.4 517.1 L854.4 516.5 L856.3 516.3 L856.3 516.3 L858.3 516.6 L858.3 516.7 L860.3 517.2 L860.3 518.9 L862.3 519.1 L862.3 520.9 L864.3 521.3 L864.3 524.2 L866.3 524.6 L866.3 527.3 L868.2 528.5 L868.2 531.5 L870.2 532.3 L870.2 535.7 L872.2 536.7 L872.2 540.4 L874.2 541.1 L874.2 545.0 L876.2 545.9 L876.2 550.2 L878.2 550.9 L878.2 555.1 L880.1 555.9 L880.1 559.7 L882.1 560.6 L882.1 564.5 L884.1 565.6 L884.1 569.3 L886.1 569.6 L886.1 573.3 L888.1 574.1 L888.1 576.8 L890.1 577.4 L890.1 580.1 L892.1 580.9 L892.1 582.8 L894.0 583.3 L894.0 584.4 L896.0 584.7 L896.0 585.4 L898.0 585.5 L898.0 586.0 L900.0 586.1 L900.0 585.1 L902.0 585.2 L902.0 583.7 L904.0 583.1 L904.0 580.8 L905.9 580.3 L905.9 577.8 L907.9 577.3 L907.9 573.9 L909.9 573.2 L909.9 569.3 L911.9 568.6 L911.9 565.1 L913.9 563.7 L913.9 559.8 L915.9 558.7 L915.9 554.8 L917.8 553.7 L917.8 549.8 L919.8 548.6 L919.8 544.7 L921.8 543.7 L921.8 539.5 L923.8 538.8 L923.8 534.4 L925.8 534.3 L925.8 530.7 L927.8 529.9 L927.8 526.7 L929.7 526.3 L929.7 523.4 L931.7 523.5 L931.7 521.7 L933.7 520.9 L933.7 519.8 L935.7 520.0 L935.7 519.1 L937.7 519.5 L937.7 519.8 L939.7 520.1 L939.7 521.8 L941.7 521.6 L941.7 524.1 L943.6 524.7 L943.6 527.2 L945.6 527.6 L945.6 531.3 L947.6 532.0 L947.6 535.8 L949.6 536.6 L949.6 540.8 L951.6 541.6 L951.6 545.5 L953.6 546.9 L953.6 551.3 L955.5 552.2 L955.5 556.8 L957.5 557.6 L957.5 561.9 L959.5 562.8 L959.5 567.3 L961.5 567.8 L961.5 572.1 L963.5 572.7 L963.5 577.0 L965.5 577.6 L965.5 580.7 L967.4 581.2 L967.4 584.1 L969.4 584.4 L969.4 587.0 L971.4 587.1 L971.4 588.2 L973.4 588.3 L973.4 588.9 L975.4 589.3 L975.4 589.0 L977.4 588.8 L977.4 587.8 L979.3 587.8 L979.3 585.7 L981.3 585.3 L981.3 583.6 L983.3 582.9 L983.3 580.6 L985.3 579.9 L985.3 576.9 L987.3 576.2 L987.3 572.6 L989.3 572.1 L989.3 568.2 L991.3 567.7 L991.3 564.1 L993.2 562.9 L993.2 559.2 L995.2 558.7 L995.2 554.2 L997.2 553.7 L997.2 549.5 L999.2 549.0 L999.2 545.3 L1001.2 544.0 L1001.2 540.9 L1003.2 539.8 L1003.2 536.2 L1005.1 536.2 L1005.1 532.8 L1007.0 531.0" stroke="#008000" stroke-width="0.56" fill="none" stroke-linejoin="round"/>
<path d="M612.5 621.6 L614.3 618.4 L614.3 612.5 L616.3 611.3 L616.3 604.4 L618.3 603.3 L618.3 596.6 L620.2 595.2 L620.2 585.8 L622.2 584.1 L622.2 572.2 L624.2 570.4 L624.2 558.8 L626.2 557.2 L626.2 546.6 L628.2 545.1 L628.2 535.5 L630.2 533.4 L630.2 526.4 L632.1 525.7 L632.1 520.9 L634.1 519.6 L634.1 515.6 L636.1 514.9 L636.1 509.9 L638.1 509.5 L638.1 504.0 L640.1 503.3 L640.1 498.8 L642.1 497.7 L642.1 494.2 L644.1 494.0 L644.1 490.0 L646.0 489.7 L646.0 486.9 L648.0 486.4 L648.0 484.7 L650.0 484.5 L650.0 485.1 L652.0 486.1 L652.0 490.2 L654.0 491.5 L654.0 497.9 L656.0 498.8 L656.0 506.7 L657.9 508.3 L657.9 518.1 L659.9 520.2 L659.9 529.8 L661.9 531.7 L661.9 540.7 L663.9 542.5 L663.9 551.4 L665.9 553.1 L665.9 560.7 L667.9 562.4 L667.9 570.0 L669.8 571.7 L669.8 579.3 L671.8 581.2 L671.8 589.1 L673.8 590.6 L673.8 598.0 L675.8 599.7 L675.8 606.8 L677.8 607.6 L677.8 614.7 L679.8 615.8 L679.8 620.9 L681.7 621.8 L681.7 625.9 L683.7 626.2 L683.7 628.7 L685.7 629.2 L685.7 630.0 L687.7 629.6 L687.7 628.0 L689.7 627.2 L689.7 623.1 L691.7 622.3 L691.7 616.2 L693.7 615.6 L693.7 608.4 L695.6 606.9 L695.6 598.9 L697.6 597.6 L697.6 590.0 L699.6 589.1 L699.6 581.3 L701.6 580.0 L701.6 572.0 L703.6 570.5 L703.6 561.7 L705.6 560.2 L705.6 549.9 L707.5 548.4 L707.5 536.0 L709.5 533.8 L709.5 521.8 L711.5 520.3 L711.5 514.8 L713.5 514.5 L713.5 511.4 L715.5 511.0 L715.5 507.4 L717.5 507.2 L717.5 503.5 L719.4 502.8 L719.4 499.6 L721.4 498.7 L721.4 495.3 L723.4 495.1 L723.4 491.1 L725.4 490.2 L725.4 487.1 L727.4 486.9 L727.4 485.5 L729.4 485.6 L729.4 487.0 L731.3 488.2 L731.3 492.9 L733.3 493.6 L733.3 499.8 L735.3 501.0 L735.3 508.2 L737.3 509.5 L737.3 518.7 L739.3 520.4 L739.3 529.2 L741.3 531.0 L741.3 540.5 L743.3 542.7 L743.3 552.3 L745.2 554.0 L745.2 561.5 L747.2 563.4 L747.2 571.1 L749.2 572.8 L749.2 580.9 L751.2 581.8 L751.2 590.5 L753.2 591.7 L753.2 599.2 L755.2 600.3 L755.2 607.7 L757.1 609.0 L757.1 614.8 L759.1 616.3 L759.1 621.5 L761.1 621.9 L761.1 626.2 L763.1 626.2 L763.1 628.6 L765.1 629.0 L765.1 630.0 L767.1 629.5 L767.1 628.3 L769.0 627.4 L769.0 623.9 L771.0 623.2 L771.0 617.3 L773.0 616.6 L773.0 609.2 L775.0 607.6 L775.0 599.8 L777.0 598.3 L777.0 588.7 L779.0 587.5 L779.0 577.7 L780.9 575.6 L780.9 565.4 L782.9 564.1 L782.9 553.7 L784.9 552.3 L784.9 542.3 L786.9 541.2 L786.9 531.8 L788.9 530.1 L788.9 522.6 L790.9 521.3 L790.9 514.5 L792.9 513.1 L792.9 507.8 L794.8 507.5 L794.8 503.6 L796.8 503.7 L796.8 500.9 L798.8 500.6 L798.8 499.5 L799.1 499.7 L799.8 499.7 L800.2 576.4 L803.5 576.4 L803.9 534.0 L805.7 534.0 L805.7 544.7 L807.5 544.7 L808.4 529.3 L808.4 529.3 L808.7 529.6 L808.7 528.8 L810.7 528.3 L810.7 527.6 L812.7 527.1 L812.7 527.3 L814.7 526.9 L814.7 527.1 L816.7 527.2 L816.7 528.6 L818.6 528.7 L818.6 530.6 L820.6 530.6 L820.6 533.5 L822.6 533.8 L822.6 536.8 L824.6 537.5 L824.6 541.4 L826.6 542.2 L826.6 546.1 L828.6 546.9 L828.6 551.3 L830.5 551.6 L830.5 556.3 L832.5 557.3 L832.5 562.0 L834.5 562.4 L834.5 566.7 L836.5 567.7 L836.5 571.9 L838.5 572.5 L838.5 577.2 L840.5 577.8 L840.5 581.1 L842.5 582.1 L842.5 585.2 L844.4 585.7 L844.4 588.4 L846.4 588.9 L846.4 590.4 L848.4 590.9 L848.4 592.0 L850.4 592.4 L850.4 592.3 L852.4 592.2 L852.4 591.2 L854.4 591.1 L854.4 589.8 L856.3 589.2 L856.3 586.4 L858.3 585.8 L858.3 582.5 L860.3 582.4 L860.3 578.5 L862.3 577.6 L862.3 573.0 L864.3 572.6 L864.3 567.3 L866.3 566.6 L866.3 562.0 L868.2 561.0 L868.2 555.5 L870.2 554.8 L870.2 549.5 L872.2 548.4 L872.2 543.3 L874.2 542.1 L874.2 537.0 L876.2 536.1 L876.2 531.0 L878.2 530.1 L878.2 526.2 L880.1 525.4 L880.1 520.7 L882.1 520.6 L882.1 516.8 L884.1 516.0 L884.1 513.2 L886.1 512.9 L886.1 510.8 L888.1 510.8 L888.1 509.1 L890.1 509.5 L890.1 509.0 L892.1 509.2 L892.1 509.7 L894.0 510.1 L894.0 511.9 L896.0 511.8 L896.0 514.5 L898.0 514.6 L898.0 517.9 L900.0 518.2 L900.0 522.3 L902.0 523.2 L902.0 527.1 L904.0 527.6 L904.0 532.2 L905.9 533.7 L905.9 538.3 L907.9 539.3 L907.9 543.8 L909.9 545.0 L909.9 550.0 L911.9 550.8 L911.9 556.2 L913.9 557.4 L913.9 562.2 L915.9 562.7 L915.9 568.1 L917.8 568.5 L917.8 573.0 L919.8 574.3 L919.8 578.0 L921.8 579.0 L921.8 582.4 L923.8 583.4 L923.8 585.9 L925.8 586.3 L925.8 589.0 L927.8 589.4 L927.8 591.1 L929.7 590.8 L929.7 591.3 L931.7 591.9 L931.7 591.4 L933.7 591.1 L933.7 589.8 L935.7 589.5 L935.7 587.3 L937.7 587.1 L937.7 583.7 L939.7 583.0 L939.7 579.8 L941.7 578.6 L941.7 574.8 L943.6 574.1 L943.6 569.0 L945.6 568.2 L945.6 563.4 L947.6 562.7 L947.6 557.1 L949.6 556.2 L949.6 551.1 L951.6 550.4 L951.6 545.2 L953.6 544.3 L953.6 538.8 L955.5 538.0 L955.5 532.7 L957.5 531.9 L957.5 527.8 L959.5 526.5 L959.5 522.8 L961.5 522.3 L961.5 518.6 L963.5 517.5 L963.5 514.6 L965.5 514.4 L965.5 512.6 L967.4 512.3 L967.4 511.2 L969.4 510.7 L969.4 510.6 L971.4 510.3 L971.4 511.4 L973.4 511.7 L973.4 513.5 L975.4 513.9 L975.4 516.4 L977.4 516.6 L977.4 520.2 L979.3 520.5 L979.3 524.3 L981.3 525.2 L981.3 530.1 L983.3 530.3 L983.3 535.7 L985.3 536.4 L985.3 541.6 L987.3 542.3 L987.3 547.4 L989.3 548.4 L989.3 554.2 L991.3 555.2 L991.3 560.2 L993.2 561.2 L993.2 566.7 L995.2 567.3 L995.2 572.2 L997.2 573.0 L997.2 577.9 L999.2 578.3 L999.2 582.7 L1001.2 583.8 L1001.2 587.5 L1003.2 587.7 L1003.2 590.9 L1005.1 591.3 L1005.1 593.4 L1007.0 594.6" stroke="#ff0000" stroke-width="0.56" fill="none" stroke-linejoin="round"/>
<path d="M814.7 447.4 L804.4 482.3" stroke="#222" stroke-width="0.85"/><path d="M801.4 492.6 L800.0 476.7 L804.4 482.3 L811.2 479.9 Z" fill="#000"/>
<path d="M745.6 656.0 L745.6 635.6" stroke="#222" stroke-width="1.0"/><path d="M745.6 624.9 L751.4 639.8 L745.6 635.6 L739.8 639.8 Z" fill="#000"/>
<text class="a" x="742.0" y="440.0" textLength="144.0">Arc grounding</text>
<text class="a" x="622.7" y="676.8" textLength="244.0">Single-phase grounding</text>
</svg>
</body></html>
